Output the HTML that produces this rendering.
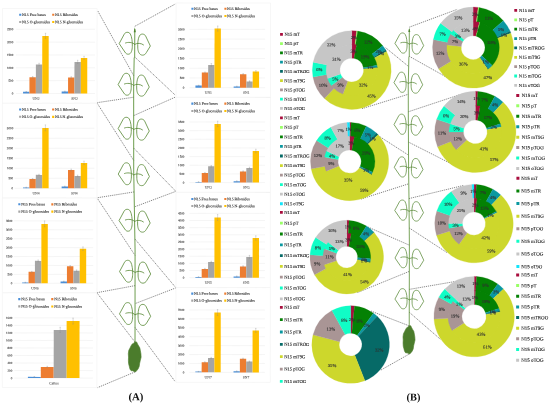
<!DOCTYPE html>
<html><head><meta charset="utf-8"><title>Figure</title>
<style>html,body{margin:0;padding:0;background:#fff}svg{display:block}text{text-rendering:geometricPrecision}</style>
</head><body>
<svg width="550" height="404" viewBox="0 0 550 404">
<rect width="550" height="404" fill="#fff"/>
<g transform="rotate(0.03 275 202)">
<g stroke="#555" stroke-width="0.7" stroke-dasharray="1.2 0.9" fill="none">
<line x1="97.7" y1="11.1" x2="133.77" y2="76"/>
<line x1="134.7" y1="26.4" x2="175.3" y2="4.0"/>
<line x1="134.6" y1="57" x2="175" y2="95"/>
<line x1="133.61" y1="97.3" x2="96.8" y2="102.8"/>
<line x1="175" y1="97.3" x2="133.64" y2="115.7"/>
<line x1="96.8" y1="102.8" x2="133.69" y2="160.5"/>
<line x1="133.67" y1="148.2" x2="175.5" y2="191"/>
<line x1="134.09" y1="192" x2="97.7" y2="197.8"/>
<line x1="175.6" y1="191.5" x2="134.35" y2="207"/>
<line x1="97.7" y1="199" x2="135.1" y2="255.5"/>
<line x1="134.91" y1="239" x2="175.6" y2="287.4"/>
<line x1="135.1" y1="285.7" x2="96.9" y2="292.8"/>
<line x1="176" y1="287.9" x2="135.1" y2="303.7"/>
<line x1="96.9" y1="292.8" x2="135.1" y2="342.2"/>
<line x1="135.1" y1="327.5" x2="175.2" y2="381.6"/>
<line x1="135.1" y1="372" x2="97.7" y2="387.7"/>
<line x1="409.2" y1="27.1" x2="457" y2="9.3"/>
<line x1="409.12" y1="56.2" x2="447" y2="77.4"/>
<line x1="385.6" y1="47.7" x2="408.6" y2="66.5"/>
<line x1="362" y1="108.6" x2="408.23" y2="94.2"/>
<line x1="408.28" y1="111.7" x2="460" y2="94.5"/>
<line x1="408.43" y1="142" x2="458.5" y2="167.4"/>
<line x1="376.6" y1="134.6" x2="408.51" y2="155.1"/>
<line x1="361" y1="199" x2="408.78" y2="183.7"/>
<line x1="408.98" y1="198.5" x2="463.4" y2="185.4"/>
<line x1="409.25" y1="227.9" x2="447" y2="252.5"/>
<line x1="368" y1="227" x2="409.4" y2="245.1"/>
<line x1="357.5" y1="292.5" x2="409.37" y2="271.3"/>
<line x1="409.35" y1="289.3" x2="461.7" y2="280.3"/>
<line x1="409.32" y1="312.2" x2="440.5" y2="339.2"/>
<line x1="371" y1="311" x2="409.3" y2="325.8"/>
<line x1="381" y1="370" x2="409.3" y2="354"/>
</g>
<rect x="2.4" y="8.6" width="94.6" height="94.8" fill="#fff" stroke="#eeeeee" stroke-width="0.5"/>
<line x1="16" y1="93.60" x2="95" y2="93.60" stroke="#e6e6e6" stroke-width="0.42"/>
<text x="13.2" y="94.70" font-size="3.2" text-anchor="end" fill="#3c3c3c" stroke="#3c3c3c" stroke-width="0.1" font-family="Liberation Serif, serif">0</text>
<line x1="16" y1="80.76" x2="95" y2="80.76" stroke="#e6e6e6" stroke-width="0.42"/>
<text x="13.2" y="81.86" font-size="3.2" text-anchor="end" fill="#3c3c3c" stroke="#3c3c3c" stroke-width="0.1" font-family="Liberation Serif, serif">500</text>
<line x1="16" y1="67.92" x2="95" y2="67.92" stroke="#e6e6e6" stroke-width="0.42"/>
<text x="13.2" y="69.02" font-size="3.2" text-anchor="end" fill="#3c3c3c" stroke="#3c3c3c" stroke-width="0.1" font-family="Liberation Serif, serif">1000</text>
<line x1="16" y1="55.08" x2="95" y2="55.08" stroke="#e6e6e6" stroke-width="0.42"/>
<text x="13.2" y="56.18" font-size="3.2" text-anchor="end" fill="#3c3c3c" stroke="#3c3c3c" stroke-width="0.1" font-family="Liberation Serif, serif">1500</text>
<line x1="16" y1="42.24" x2="95" y2="42.24" stroke="#e6e6e6" stroke-width="0.42"/>
<text x="13.2" y="43.34" font-size="3.2" text-anchor="end" fill="#3c3c3c" stroke="#3c3c3c" stroke-width="0.1" font-family="Liberation Serif, serif">2000</text>
<line x1="16" y1="29.40" x2="95" y2="29.40" stroke="#e6e6e6" stroke-width="0.42"/>
<text x="13.2" y="30.50" font-size="3.2" text-anchor="end" fill="#3c3c3c" stroke="#3c3c3c" stroke-width="0.1" font-family="Liberation Serif, serif">2500</text>
<rect x="19.099999999999998" y="13.80" width="2.1" height="2.1" fill="#4a8fd9"/>
<text x="22" y="16.05" font-size="3.85" fill="#333" stroke="#333" stroke-width="0.12" font-family="Liberation Serif, serif">N15 Free bases</text>
<rect x="52.1" y="13.80" width="2.1" height="2.1" fill="#ED7D31"/>
<text x="55" y="16.05" font-size="3.85" fill="#333" stroke="#333" stroke-width="0.12" font-family="Liberation Serif, serif">N15 Ribosides</text>
<rect x="19.099999999999998" y="21.10" width="2.1" height="2.1" fill="#A5A5A5"/>
<text x="22" y="23.35" font-size="3.85" fill="#333" stroke="#333" stroke-width="0.12" font-family="Liberation Serif, serif">N15 O-glucosides</text>
<rect x="52.1" y="21.10" width="2.1" height="2.1" fill="#FFC000"/>
<text x="55" y="23.35" font-size="3.85" fill="#333" stroke="#333" stroke-width="0.12" font-family="Liberation Serif, serif">N15 N-glucosides</text>
<rect x="23.00" y="92.00" width="6.40" height="1.60" fill="#4a8fd9"/>
<path d="M26.20 91.60V92.40M25.50 91.60h1.4M25.50 92.40h1.4" stroke="#8a8a8a" stroke-width="0.3" fill="none"/>
<rect x="29.40" y="77.40" width="6.40" height="16.20" fill="#ED7D31"/>
<path d="M32.60 76.60V78.20M31.90 76.60h1.4M31.90 78.20h1.4" stroke="#8a8a8a" stroke-width="0.3" fill="none"/>
<rect x="35.80" y="64.60" width="6.40" height="29.00" fill="#A5A5A5"/>
<path d="M39.00 63.40V65.80M38.30 63.40h1.4M38.30 65.80h1.4" stroke="#8a8a8a" stroke-width="0.3" fill="none"/>
<rect x="42.20" y="36.00" width="6.40" height="57.60" fill="#FFC000"/>
<path d="M45.40 33.40V38.60M44.70 33.40h1.4M44.70 38.60h1.4" stroke="#8a8a8a" stroke-width="0.3" fill="none"/>
<rect x="61.60" y="91.60" width="6.40" height="2.00" fill="#4a8fd9"/>
<path d="M64.80 91.20V92.00M64.10 91.20h1.4M64.10 92.00h1.4" stroke="#8a8a8a" stroke-width="0.3" fill="none"/>
<rect x="68.00" y="77.60" width="6.40" height="16.00" fill="#ED7D31"/>
<path d="M71.20 76.80V78.40M70.50 76.80h1.4M70.50 78.40h1.4" stroke="#8a8a8a" stroke-width="0.3" fill="none"/>
<rect x="74.40" y="62.00" width="6.40" height="31.60" fill="#A5A5A5"/>
<path d="M77.60 60.40V63.60M76.90 60.40h1.4M76.90 63.60h1.4" stroke="#8a8a8a" stroke-width="0.3" fill="none"/>
<rect x="80.80" y="58.00" width="6.40" height="35.60" fill="#FFC000"/>
<path d="M84.00 56.40V59.60M83.30 56.40h1.4M83.30 59.60h1.4" stroke="#8a8a8a" stroke-width="0.3" fill="none"/>
<text x="36" y="99.85" font-size="3.7" text-anchor="middle" fill="#444" stroke="#444" stroke-width="0.06" font-family="Liberation Serif, serif">UN2</text>
<text x="74.4" y="99.85" font-size="3.7" text-anchor="middle" fill="#444" stroke="#444" stroke-width="0.06" font-family="Liberation Serif, serif">SN2</text>
<rect x="2.4" y="103.4" width="94.6" height="94.8" fill="#fff" stroke="#eeeeee" stroke-width="0.5"/>
<line x1="14.6" y1="188.40" x2="94.4" y2="188.40" stroke="#e6e6e6" stroke-width="0.42"/>
<text x="13.2" y="189.50" font-size="3.2" text-anchor="end" fill="#3c3c3c" stroke="#3c3c3c" stroke-width="0.1" font-family="Liberation Serif, serif">0</text>
<line x1="14.6" y1="178.40" x2="94.4" y2="178.40" stroke="#e6e6e6" stroke-width="0.42"/>
<text x="13.2" y="179.50" font-size="3.2" text-anchor="end" fill="#3c3c3c" stroke="#3c3c3c" stroke-width="0.1" font-family="Liberation Serif, serif">500</text>
<line x1="14.6" y1="168.40" x2="94.4" y2="168.40" stroke="#e6e6e6" stroke-width="0.42"/>
<text x="13.2" y="169.50" font-size="3.2" text-anchor="end" fill="#3c3c3c" stroke="#3c3c3c" stroke-width="0.1" font-family="Liberation Serif, serif">1000</text>
<line x1="14.6" y1="158.40" x2="94.4" y2="158.40" stroke="#e6e6e6" stroke-width="0.42"/>
<text x="13.2" y="159.50" font-size="3.2" text-anchor="end" fill="#3c3c3c" stroke="#3c3c3c" stroke-width="0.1" font-family="Liberation Serif, serif">1500</text>
<line x1="14.6" y1="148.40" x2="94.4" y2="148.40" stroke="#e6e6e6" stroke-width="0.42"/>
<text x="13.2" y="149.50" font-size="3.2" text-anchor="end" fill="#3c3c3c" stroke="#3c3c3c" stroke-width="0.1" font-family="Liberation Serif, serif">2000</text>
<line x1="14.6" y1="138.40" x2="94.4" y2="138.40" stroke="#e6e6e6" stroke-width="0.42"/>
<text x="13.2" y="139.50" font-size="3.2" text-anchor="end" fill="#3c3c3c" stroke="#3c3c3c" stroke-width="0.1" font-family="Liberation Serif, serif">2500</text>
<line x1="14.6" y1="128.40" x2="94.4" y2="128.40" stroke="#e6e6e6" stroke-width="0.42"/>
<text x="13.2" y="129.50" font-size="3.2" text-anchor="end" fill="#3c3c3c" stroke="#3c3c3c" stroke-width="0.1" font-family="Liberation Serif, serif">3000</text>
<rect x="19.099999999999998" y="108.60" width="2.1" height="2.1" fill="#4a8fd9"/>
<text x="22" y="110.85" font-size="3.85" fill="#333" stroke="#333" stroke-width="0.12" font-family="Liberation Serif, serif">N15 Free bases</text>
<rect x="52.1" y="108.60" width="2.1" height="2.1" fill="#ED7D31"/>
<text x="55" y="110.85" font-size="3.85" fill="#333" stroke="#333" stroke-width="0.12" font-family="Liberation Serif, serif">N15 Ribosides</text>
<rect x="19.099999999999998" y="115.90" width="2.1" height="2.1" fill="#A5A5A5"/>
<text x="22" y="118.15" font-size="3.85" fill="#333" stroke="#333" stroke-width="0.12" font-family="Liberation Serif, serif">N15 O-glucosides</text>
<rect x="52.1" y="115.90" width="2.1" height="2.1" fill="#FFC000"/>
<text x="55" y="118.15" font-size="3.85" fill="#333" stroke="#333" stroke-width="0.12" font-family="Liberation Serif, serif">N15 N-glucosides</text>
<rect x="23.00" y="187.60" width="6.40" height="0.80" fill="#4a8fd9"/>
<path d="M26.20 187.30V187.90M25.50 187.30h1.4M25.50 187.90h1.4" stroke="#8a8a8a" stroke-width="0.3" fill="none"/>
<rect x="29.40" y="179.20" width="6.40" height="9.20" fill="#ED7D31"/>
<path d="M32.60 178.60V179.80M31.90 178.60h1.4M31.90 179.80h1.4" stroke="#8a8a8a" stroke-width="0.3" fill="none"/>
<rect x="35.80" y="175.00" width="6.40" height="13.40" fill="#A5A5A5"/>
<path d="M39.00 174.40V175.60M38.30 174.40h1.4M38.30 175.60h1.4" stroke="#8a8a8a" stroke-width="0.3" fill="none"/>
<rect x="42.20" y="128.00" width="6.40" height="60.40" fill="#FFC000"/>
<path d="M45.40 125.00V131.00M44.70 125.00h1.4M44.70 131.00h1.4" stroke="#8a8a8a" stroke-width="0.3" fill="none"/>
<rect x="61.60" y="186.60" width="6.40" height="1.80" fill="#4a8fd9"/>
<path d="M64.80 186.20V187.00M64.10 186.20h1.4M64.10 187.00h1.4" stroke="#8a8a8a" stroke-width="0.3" fill="none"/>
<rect x="68.00" y="170.20" width="6.40" height="18.20" fill="#ED7D31"/>
<path d="M71.20 169.20V171.20M70.50 169.20h1.4M70.50 171.20h1.4" stroke="#8a8a8a" stroke-width="0.3" fill="none"/>
<rect x="74.40" y="176.00" width="6.40" height="12.40" fill="#A5A5A5"/>
<path d="M77.60 175.20V176.80M76.90 175.20h1.4M76.90 176.80h1.4" stroke="#8a8a8a" stroke-width="0.3" fill="none"/>
<rect x="80.80" y="163.00" width="6.40" height="25.40" fill="#FFC000"/>
<path d="M84.00 161.20V164.80M83.30 161.20h1.4M83.30 164.80h1.4" stroke="#8a8a8a" stroke-width="0.3" fill="none"/>
<text x="36" y="194.65" font-size="3.7" text-anchor="middle" fill="#444" stroke="#444" stroke-width="0.06" font-family="Liberation Serif, serif">UN4</text>
<text x="74.4" y="194.65" font-size="3.7" text-anchor="middle" fill="#444" stroke="#444" stroke-width="0.06" font-family="Liberation Serif, serif">SN4</text>
<rect x="2.4" y="198.2" width="94.6" height="94.8" fill="#fff" stroke="#eeeeee" stroke-width="0.5"/>
<line x1="13.8" y1="283.40" x2="93.2" y2="283.40" stroke="#e6e6e6" stroke-width="0.42"/>
<text x="12.4" y="284.50" font-size="3.2" text-anchor="end" fill="#3c3c3c" stroke="#3c3c3c" stroke-width="0.1" font-family="Liberation Serif, serif">0</text>
<line x1="13.8" y1="274.49" x2="93.2" y2="274.49" stroke="#e6e6e6" stroke-width="0.42"/>
<text x="12.4" y="275.59" font-size="3.2" text-anchor="end" fill="#3c3c3c" stroke="#3c3c3c" stroke-width="0.1" font-family="Liberation Serif, serif">500</text>
<line x1="13.8" y1="265.57" x2="93.2" y2="265.57" stroke="#e6e6e6" stroke-width="0.42"/>
<text x="12.4" y="266.67" font-size="3.2" text-anchor="end" fill="#3c3c3c" stroke="#3c3c3c" stroke-width="0.1" font-family="Liberation Serif, serif">1000</text>
<line x1="13.8" y1="256.66" x2="93.2" y2="256.66" stroke="#e6e6e6" stroke-width="0.42"/>
<text x="12.4" y="257.76" font-size="3.2" text-anchor="end" fill="#3c3c3c" stroke="#3c3c3c" stroke-width="0.1" font-family="Liberation Serif, serif">1500</text>
<line x1="13.8" y1="247.74" x2="93.2" y2="247.74" stroke="#e6e6e6" stroke-width="0.42"/>
<text x="12.4" y="248.84" font-size="3.2" text-anchor="end" fill="#3c3c3c" stroke="#3c3c3c" stroke-width="0.1" font-family="Liberation Serif, serif">2000</text>
<line x1="13.8" y1="238.83" x2="93.2" y2="238.83" stroke="#e6e6e6" stroke-width="0.42"/>
<text x="12.4" y="239.93" font-size="3.2" text-anchor="end" fill="#3c3c3c" stroke="#3c3c3c" stroke-width="0.1" font-family="Liberation Serif, serif">2500</text>
<line x1="13.8" y1="229.91" x2="93.2" y2="229.91" stroke="#e6e6e6" stroke-width="0.42"/>
<text x="12.4" y="231.01" font-size="3.2" text-anchor="end" fill="#3c3c3c" stroke="#3c3c3c" stroke-width="0.1" font-family="Liberation Serif, serif">3000</text>
<line x1="13.8" y1="221.00" x2="93.2" y2="221.00" stroke="#e6e6e6" stroke-width="0.42"/>
<text x="12.4" y="222.10" font-size="3.2" text-anchor="end" fill="#3c3c3c" stroke="#3c3c3c" stroke-width="0.1" font-family="Liberation Serif, serif">3500</text>
<rect x="18.3" y="203.40" width="2.1" height="2.1" fill="#4a8fd9"/>
<text x="21.2" y="205.65" font-size="3.85" fill="#333" stroke="#333" stroke-width="0.12" font-family="Liberation Serif, serif">N15 Free bases</text>
<rect x="51.300000000000004" y="203.40" width="2.1" height="2.1" fill="#ED7D31"/>
<text x="54.2" y="205.65" font-size="3.85" fill="#333" stroke="#333" stroke-width="0.12" font-family="Liberation Serif, serif">N15 Ribosides</text>
<rect x="18.3" y="210.70" width="2.1" height="2.1" fill="#A5A5A5"/>
<text x="21.2" y="212.95" font-size="3.85" fill="#333" stroke="#333" stroke-width="0.12" font-family="Liberation Serif, serif">N15 O-glucosides</text>
<rect x="51.300000000000004" y="210.70" width="2.1" height="2.1" fill="#FFC000"/>
<text x="54.2" y="212.95" font-size="3.85" fill="#333" stroke="#333" stroke-width="0.12" font-family="Liberation Serif, serif">N15 N-glucosides</text>
<rect x="22.20" y="282.60" width="6.40" height="0.80" fill="#4a8fd9"/>
<path d="M25.40 282.30V282.90M24.70 282.30h1.4M24.70 282.90h1.4" stroke="#8a8a8a" stroke-width="0.3" fill="none"/>
<rect x="28.60" y="272.00" width="6.40" height="11.40" fill="#ED7D31"/>
<path d="M31.80 271.50V272.50M31.10 271.50h1.4M31.10 272.50h1.4" stroke="#8a8a8a" stroke-width="0.3" fill="none"/>
<rect x="35.00" y="261.00" width="6.40" height="22.40" fill="#A5A5A5"/>
<path d="M38.20 260.10V261.90M37.50 260.10h1.4M37.50 261.90h1.4" stroke="#8a8a8a" stroke-width="0.3" fill="none"/>
<rect x="41.40" y="224.00" width="6.40" height="59.40" fill="#FFC000"/>
<path d="M44.60 221.00V227.00M43.90 221.00h1.4M43.90 227.00h1.4" stroke="#8a8a8a" stroke-width="0.3" fill="none"/>
<rect x="60.60" y="281.60" width="6.40" height="1.80" fill="#4a8fd9"/>
<path d="M63.80 281.20V282.00M63.10 281.20h1.4M63.10 282.00h1.4" stroke="#8a8a8a" stroke-width="0.3" fill="none"/>
<rect x="67.00" y="266.40" width="6.40" height="17.00" fill="#ED7D31"/>
<path d="M70.20 265.60V267.20M69.50 265.60h1.4M69.50 267.20h1.4" stroke="#8a8a8a" stroke-width="0.3" fill="none"/>
<rect x="73.40" y="270.80" width="6.40" height="12.60" fill="#A5A5A5"/>
<path d="M76.60 270.00V271.60M75.90 270.00h1.4M75.90 271.60h1.4" stroke="#8a8a8a" stroke-width="0.3" fill="none"/>
<rect x="79.80" y="248.80" width="6.40" height="34.60" fill="#FFC000"/>
<path d="M83.00 247.00V250.60M82.30 247.00h1.4M82.30 250.60h1.4" stroke="#8a8a8a" stroke-width="0.3" fill="none"/>
<text x="35" y="289.65" font-size="3.7" text-anchor="middle" fill="#444" stroke="#444" stroke-width="0.06" font-family="Liberation Serif, serif">UN6</text>
<text x="73.4" y="289.65" font-size="3.7" text-anchor="middle" fill="#444" stroke="#444" stroke-width="0.06" font-family="Liberation Serif, serif">SN6</text>
<rect x="2.4" y="293" width="94.6" height="94.6" fill="#fff" stroke="#eeeeee" stroke-width="0.5"/>
<line x1="14.4" y1="378.20" x2="93" y2="378.20" stroke="#e6e6e6" stroke-width="0.42"/>
<text x="12.4" y="379.30" font-size="3.2" text-anchor="end" fill="#3c3c3c" stroke="#3c3c3c" stroke-width="0.1" font-family="Liberation Serif, serif">0</text>
<line x1="14.4" y1="370.68" x2="93" y2="370.68" stroke="#e6e6e6" stroke-width="0.42"/>
<text x="12.4" y="371.78" font-size="3.2" text-anchor="end" fill="#3c3c3c" stroke="#3c3c3c" stroke-width="0.1" font-family="Liberation Serif, serif">200</text>
<line x1="14.4" y1="363.15" x2="93" y2="363.15" stroke="#e6e6e6" stroke-width="0.42"/>
<text x="12.4" y="364.25" font-size="3.2" text-anchor="end" fill="#3c3c3c" stroke="#3c3c3c" stroke-width="0.1" font-family="Liberation Serif, serif">400</text>
<line x1="14.4" y1="355.62" x2="93" y2="355.62" stroke="#e6e6e6" stroke-width="0.42"/>
<text x="12.4" y="356.73" font-size="3.2" text-anchor="end" fill="#3c3c3c" stroke="#3c3c3c" stroke-width="0.1" font-family="Liberation Serif, serif">600</text>
<line x1="14.4" y1="348.10" x2="93" y2="348.10" stroke="#e6e6e6" stroke-width="0.42"/>
<text x="12.4" y="349.20" font-size="3.2" text-anchor="end" fill="#3c3c3c" stroke="#3c3c3c" stroke-width="0.1" font-family="Liberation Serif, serif">800</text>
<line x1="14.4" y1="340.57" x2="93" y2="340.57" stroke="#e6e6e6" stroke-width="0.42"/>
<text x="12.4" y="341.68" font-size="3.2" text-anchor="end" fill="#3c3c3c" stroke="#3c3c3c" stroke-width="0.1" font-family="Liberation Serif, serif">1000</text>
<line x1="14.4" y1="333.05" x2="93" y2="333.05" stroke="#e6e6e6" stroke-width="0.42"/>
<text x="12.4" y="334.15" font-size="3.2" text-anchor="end" fill="#3c3c3c" stroke="#3c3c3c" stroke-width="0.1" font-family="Liberation Serif, serif">1200</text>
<line x1="14.4" y1="325.52" x2="93" y2="325.52" stroke="#e6e6e6" stroke-width="0.42"/>
<text x="12.4" y="326.62" font-size="3.2" text-anchor="end" fill="#3c3c3c" stroke="#3c3c3c" stroke-width="0.1" font-family="Liberation Serif, serif">1400</text>
<line x1="14.4" y1="318.00" x2="93" y2="318.00" stroke="#e6e6e6" stroke-width="0.42"/>
<text x="12.4" y="319.10" font-size="3.2" text-anchor="end" fill="#3c3c3c" stroke="#3c3c3c" stroke-width="0.1" font-family="Liberation Serif, serif">1600</text>
<rect x="18.3" y="298.20" width="2.1" height="2.1" fill="#4a8fd9"/>
<text x="21.2" y="300.45" font-size="3.85" fill="#333" stroke="#333" stroke-width="0.12" font-family="Liberation Serif, serif">N15 Free bases</text>
<rect x="51.300000000000004" y="298.20" width="2.1" height="2.1" fill="#ED7D31"/>
<text x="54.2" y="300.45" font-size="3.85" fill="#333" stroke="#333" stroke-width="0.12" font-family="Liberation Serif, serif">N15 Ribosides</text>
<rect x="18.3" y="305.50" width="2.1" height="2.1" fill="#A5A5A5"/>
<text x="21.2" y="307.75" font-size="3.85" fill="#333" stroke="#333" stroke-width="0.12" font-family="Liberation Serif, serif">N15 O-glucosides</text>
<rect x="51.300000000000004" y="305.50" width="2.1" height="2.1" fill="#FFC000"/>
<text x="54.2" y="307.75" font-size="3.85" fill="#333" stroke="#333" stroke-width="0.12" font-family="Liberation Serif, serif">N15 N-glucosides</text>
<rect x="28.00" y="377.00" width="12.90" height="1.20" fill="#4a8fd9"/>
<path d="M34.45 376.70V377.30M33.75 376.70h1.4M33.75 377.30h1.4" stroke="#8a8a8a" stroke-width="0.3" fill="none"/>
<rect x="40.90" y="367.00" width="12.90" height="11.20" fill="#ED7D31"/>
<path d="M47.35 366.40V367.60M46.65 366.40h1.4M46.65 367.60h1.4" stroke="#8a8a8a" stroke-width="0.3" fill="none"/>
<rect x="53.80" y="330.00" width="12.90" height="48.20" fill="#A5A5A5"/>
<path d="M60.25 327.40V332.60M59.55 327.40h1.4M59.55 332.60h1.4" stroke="#8a8a8a" stroke-width="0.3" fill="none"/>
<rect x="66.70" y="321.20" width="12.90" height="57.00" fill="#FFC000"/>
<path d="M73.15 318.20V324.20M72.45 318.20h1.4M72.45 324.20h1.4" stroke="#8a8a8a" stroke-width="0.3" fill="none"/>
<text x="54" y="384.65" font-size="3.7" text-anchor="middle" fill="#444" stroke="#444" stroke-width="0.06" font-family="Liberation Serif, serif">Callus</text>
<rect x="176" y="3" width="94.4" height="94.4" fill="#fff" stroke="#eeeeee" stroke-width="0.5"/>
<line x1="189.4" y1="87.70" x2="265" y2="87.70" stroke="#e6e6e6" stroke-width="0.42"/>
<text x="184.4" y="88.80" font-size="3.2" text-anchor="end" fill="#3c3c3c" stroke="#3c3c3c" stroke-width="0.1" font-family="Liberation Serif, serif">0</text>
<line x1="189.4" y1="77.98" x2="265" y2="77.98" stroke="#e6e6e6" stroke-width="0.42"/>
<text x="184.4" y="79.08" font-size="3.2" text-anchor="end" fill="#3c3c3c" stroke="#3c3c3c" stroke-width="0.1" font-family="Liberation Serif, serif">500</text>
<line x1="189.4" y1="68.27" x2="265" y2="68.27" stroke="#e6e6e6" stroke-width="0.42"/>
<text x="184.4" y="69.37" font-size="3.2" text-anchor="end" fill="#3c3c3c" stroke="#3c3c3c" stroke-width="0.1" font-family="Liberation Serif, serif">1000</text>
<line x1="189.4" y1="58.55" x2="265" y2="58.55" stroke="#e6e6e6" stroke-width="0.42"/>
<text x="184.4" y="59.65" font-size="3.2" text-anchor="end" fill="#3c3c3c" stroke="#3c3c3c" stroke-width="0.1" font-family="Liberation Serif, serif">1500</text>
<line x1="189.4" y1="48.83" x2="265" y2="48.83" stroke="#e6e6e6" stroke-width="0.42"/>
<text x="184.4" y="49.93" font-size="3.2" text-anchor="end" fill="#3c3c3c" stroke="#3c3c3c" stroke-width="0.1" font-family="Liberation Serif, serif">2000</text>
<line x1="189.4" y1="39.12" x2="265" y2="39.12" stroke="#e6e6e6" stroke-width="0.42"/>
<text x="184.4" y="40.22" font-size="3.2" text-anchor="end" fill="#3c3c3c" stroke="#3c3c3c" stroke-width="0.1" font-family="Liberation Serif, serif">2500</text>
<line x1="189.4" y1="29.40" x2="265" y2="29.40" stroke="#e6e6e6" stroke-width="0.42"/>
<text x="184.4" y="30.50" font-size="3.2" text-anchor="end" fill="#3c3c3c" stroke="#3c3c3c" stroke-width="0.1" font-family="Liberation Serif, serif">3000</text>
<rect x="191.29999999999998" y="7.80" width="2.1" height="2.1" fill="#4a8fd9"/>
<text x="194" y="10.05" font-size="3.85" fill="#333" stroke="#333" stroke-width="0.12" font-family="Liberation Serif, serif">N15 Free bases</text>
<rect x="224.29999999999998" y="7.80" width="2.1" height="2.1" fill="#ED7D31"/>
<text x="227" y="10.05" font-size="3.85" fill="#333" stroke="#333" stroke-width="0.12" font-family="Liberation Serif, serif">N15 Ribosides</text>
<rect x="191.29999999999998" y="15.00" width="2.1" height="2.1" fill="#A5A5A5"/>
<text x="194" y="17.25" font-size="3.85" fill="#333" stroke="#333" stroke-width="0.12" font-family="Liberation Serif, serif">N15 O-glucosides</text>
<rect x="224.29999999999998" y="15.00" width="2.1" height="2.1" fill="#FFC000"/>
<text x="227" y="17.25" font-size="3.85" fill="#333" stroke="#333" stroke-width="0.12" font-family="Liberation Serif, serif">N15 N-glucosides</text>
<rect x="195.40" y="85.60" width="6.35" height="2.10" fill="#4a8fd9"/>
<path d="M198.58 85.20V86.00M197.88 85.20h1.4M197.88 86.00h1.4" stroke="#8a8a8a" stroke-width="0.3" fill="none"/>
<rect x="201.75" y="72.60" width="6.35" height="15.10" fill="#ED7D31"/>
<path d="M204.93 72.00V73.20M204.23 72.00h1.4M204.23 73.20h1.4" stroke="#8a8a8a" stroke-width="0.3" fill="none"/>
<rect x="208.10" y="65.00" width="6.35" height="22.70" fill="#A5A5A5"/>
<path d="M211.28 63.60V66.40M210.58 63.60h1.4M210.58 66.40h1.4" stroke="#8a8a8a" stroke-width="0.3" fill="none"/>
<rect x="214.45" y="28.60" width="6.35" height="59.10" fill="#FFC000"/>
<path d="M217.62 26.00V31.20M216.93 26.00h1.4M216.93 31.20h1.4" stroke="#8a8a8a" stroke-width="0.3" fill="none"/>
<rect x="233.60" y="86.40" width="6.35" height="1.30" fill="#4a8fd9"/>
<path d="M236.78 86.10V86.70M236.08 86.10h1.4M236.08 86.70h1.4" stroke="#8a8a8a" stroke-width="0.3" fill="none"/>
<rect x="239.95" y="74.20" width="6.35" height="13.50" fill="#ED7D31"/>
<path d="M243.12 73.60V74.80M242.43 73.60h1.4M242.43 74.80h1.4" stroke="#8a8a8a" stroke-width="0.3" fill="none"/>
<rect x="246.30" y="81.40" width="6.35" height="6.30" fill="#A5A5A5"/>
<path d="M249.47 80.80V82.00M248.78 80.80h1.4M248.78 82.00h1.4" stroke="#8a8a8a" stroke-width="0.3" fill="none"/>
<rect x="252.65" y="71.60" width="6.35" height="16.10" fill="#FFC000"/>
<path d="M255.82 70.60V72.60M255.12 70.60h1.4M255.12 72.60h1.4" stroke="#8a8a8a" stroke-width="0.3" fill="none"/>
<text x="208.3" y="93.85" font-size="3.7" text-anchor="middle" fill="#444" stroke="#444" stroke-width="0.06" font-family="Liberation Serif, serif">UN1</text>
<text x="246.2" y="93.85" font-size="3.7" text-anchor="middle" fill="#444" stroke="#444" stroke-width="0.06" font-family="Liberation Serif, serif">SN1</text>
<rect x="176" y="97.4" width="94.4" height="95.0" fill="#fff" stroke="#eeeeee" stroke-width="0.5"/>
<line x1="189.4" y1="182.60" x2="265" y2="182.60" stroke="#e6e6e6" stroke-width="0.42"/>
<text x="184.4" y="183.70" font-size="3.2" text-anchor="end" fill="#3c3c3c" stroke="#3c3c3c" stroke-width="0.1" font-family="Liberation Serif, serif">0</text>
<line x1="189.4" y1="173.94" x2="265" y2="173.94" stroke="#e6e6e6" stroke-width="0.42"/>
<text x="184.4" y="175.04" font-size="3.2" text-anchor="end" fill="#3c3c3c" stroke="#3c3c3c" stroke-width="0.1" font-family="Liberation Serif, serif">500</text>
<line x1="189.4" y1="165.29" x2="265" y2="165.29" stroke="#e6e6e6" stroke-width="0.42"/>
<text x="184.4" y="166.39" font-size="3.2" text-anchor="end" fill="#3c3c3c" stroke="#3c3c3c" stroke-width="0.1" font-family="Liberation Serif, serif">1000</text>
<line x1="189.4" y1="156.63" x2="265" y2="156.63" stroke="#e6e6e6" stroke-width="0.42"/>
<text x="184.4" y="157.73" font-size="3.2" text-anchor="end" fill="#3c3c3c" stroke="#3c3c3c" stroke-width="0.1" font-family="Liberation Serif, serif">1500</text>
<line x1="189.4" y1="147.97" x2="265" y2="147.97" stroke="#e6e6e6" stroke-width="0.42"/>
<text x="184.4" y="149.07" font-size="3.2" text-anchor="end" fill="#3c3c3c" stroke="#3c3c3c" stroke-width="0.1" font-family="Liberation Serif, serif">2000</text>
<line x1="189.4" y1="139.31" x2="265" y2="139.31" stroke="#e6e6e6" stroke-width="0.42"/>
<text x="184.4" y="140.41" font-size="3.2" text-anchor="end" fill="#3c3c3c" stroke="#3c3c3c" stroke-width="0.1" font-family="Liberation Serif, serif">2500</text>
<line x1="189.4" y1="130.66" x2="265" y2="130.66" stroke="#e6e6e6" stroke-width="0.42"/>
<text x="184.4" y="131.76" font-size="3.2" text-anchor="end" fill="#3c3c3c" stroke="#3c3c3c" stroke-width="0.1" font-family="Liberation Serif, serif">3000</text>
<line x1="189.4" y1="122.00" x2="265" y2="122.00" stroke="#e6e6e6" stroke-width="0.42"/>
<text x="184.4" y="123.10" font-size="3.2" text-anchor="end" fill="#3c3c3c" stroke="#3c3c3c" stroke-width="0.1" font-family="Liberation Serif, serif">3500</text>
<rect x="191.29999999999998" y="102.60" width="2.1" height="2.1" fill="#4a8fd9"/>
<text x="194" y="104.85" font-size="3.85" fill="#333" stroke="#333" stroke-width="0.12" font-family="Liberation Serif, serif">N15 Free bases</text>
<rect x="224.29999999999998" y="102.60" width="2.1" height="2.1" fill="#ED7D31"/>
<text x="227" y="104.85" font-size="3.85" fill="#333" stroke="#333" stroke-width="0.12" font-family="Liberation Serif, serif">N15 Ribosides</text>
<rect x="191.29999999999998" y="110.00" width="2.1" height="2.1" fill="#A5A5A5"/>
<text x="194" y="112.25" font-size="3.85" fill="#333" stroke="#333" stroke-width="0.12" font-family="Liberation Serif, serif">N15 O-glucosides</text>
<rect x="224.29999999999998" y="110.00" width="2.1" height="2.1" fill="#FFC000"/>
<text x="227" y="112.25" font-size="3.85" fill="#333" stroke="#333" stroke-width="0.12" font-family="Liberation Serif, serif">N15 N-glucosides</text>
<rect x="195.40" y="182.00" width="6.35" height="0.60" fill="#4a8fd9"/>
<path d="M198.58 181.80V182.20M197.88 181.80h1.4M197.88 182.20h1.4" stroke="#8a8a8a" stroke-width="0.3" fill="none"/>
<rect x="201.75" y="173.00" width="6.35" height="9.60" fill="#ED7D31"/>
<path d="M204.93 172.50V173.50M204.23 172.50h1.4M204.23 173.50h1.4" stroke="#8a8a8a" stroke-width="0.3" fill="none"/>
<rect x="208.10" y="166.40" width="6.35" height="16.20" fill="#A5A5A5"/>
<path d="M211.28 165.60V167.20M210.58 165.60h1.4M210.58 167.20h1.4" stroke="#8a8a8a" stroke-width="0.3" fill="none"/>
<rect x="214.45" y="124.00" width="6.35" height="58.60" fill="#FFC000"/>
<path d="M217.62 121.20V126.80M216.93 121.20h1.4M216.93 126.80h1.4" stroke="#8a8a8a" stroke-width="0.3" fill="none"/>
<rect x="233.60" y="181.20" width="6.35" height="1.40" fill="#4a8fd9"/>
<path d="M236.78 180.80V181.60M236.08 180.80h1.4M236.08 181.60h1.4" stroke="#8a8a8a" stroke-width="0.3" fill="none"/>
<rect x="239.95" y="171.40" width="6.35" height="11.20" fill="#ED7D31"/>
<path d="M243.12 170.90V171.90M242.43 170.90h1.4M242.43 171.90h1.4" stroke="#8a8a8a" stroke-width="0.3" fill="none"/>
<rect x="246.30" y="168.00" width="6.35" height="14.60" fill="#A5A5A5"/>
<path d="M249.47 167.20V168.80M248.78 167.20h1.4M248.78 168.80h1.4" stroke="#8a8a8a" stroke-width="0.3" fill="none"/>
<rect x="252.65" y="151.00" width="6.35" height="31.60" fill="#FFC000"/>
<path d="M255.82 149.20V152.80M255.12 149.20h1.4M255.12 152.80h1.4" stroke="#8a8a8a" stroke-width="0.3" fill="none"/>
<text x="208.3" y="188.65" font-size="3.7" text-anchor="middle" fill="#444" stroke="#444" stroke-width="0.06" font-family="Liberation Serif, serif">UN3</text>
<text x="246.2" y="188.65" font-size="3.7" text-anchor="middle" fill="#444" stroke="#444" stroke-width="0.06" font-family="Liberation Serif, serif">SN3</text>
<rect x="176" y="192.4" width="94.4" height="95.2" fill="#fff" stroke="#eeeeee" stroke-width="0.5"/>
<line x1="189.4" y1="277.70" x2="265" y2="277.70" stroke="#e6e6e6" stroke-width="0.42"/>
<text x="184.4" y="278.80" font-size="3.2" text-anchor="end" fill="#3c3c3c" stroke="#3c3c3c" stroke-width="0.1" font-family="Liberation Serif, serif">0</text>
<line x1="189.4" y1="270.56" x2="265" y2="270.56" stroke="#e6e6e6" stroke-width="0.42"/>
<text x="184.4" y="271.66" font-size="3.2" text-anchor="end" fill="#3c3c3c" stroke="#3c3c3c" stroke-width="0.1" font-family="Liberation Serif, serif">500</text>
<line x1="189.4" y1="263.41" x2="265" y2="263.41" stroke="#e6e6e6" stroke-width="0.42"/>
<text x="184.4" y="264.51" font-size="3.2" text-anchor="end" fill="#3c3c3c" stroke="#3c3c3c" stroke-width="0.1" font-family="Liberation Serif, serif">1000</text>
<line x1="189.4" y1="256.27" x2="265" y2="256.27" stroke="#e6e6e6" stroke-width="0.42"/>
<text x="184.4" y="257.37" font-size="3.2" text-anchor="end" fill="#3c3c3c" stroke="#3c3c3c" stroke-width="0.1" font-family="Liberation Serif, serif">1500</text>
<line x1="189.4" y1="249.12" x2="265" y2="249.12" stroke="#e6e6e6" stroke-width="0.42"/>
<text x="184.4" y="250.22" font-size="3.2" text-anchor="end" fill="#3c3c3c" stroke="#3c3c3c" stroke-width="0.1" font-family="Liberation Serif, serif">2000</text>
<line x1="189.4" y1="241.98" x2="265" y2="241.98" stroke="#e6e6e6" stroke-width="0.42"/>
<text x="184.4" y="243.08" font-size="3.2" text-anchor="end" fill="#3c3c3c" stroke="#3c3c3c" stroke-width="0.1" font-family="Liberation Serif, serif">2500</text>
<line x1="189.4" y1="234.83" x2="265" y2="234.83" stroke="#e6e6e6" stroke-width="0.42"/>
<text x="184.4" y="235.93" font-size="3.2" text-anchor="end" fill="#3c3c3c" stroke="#3c3c3c" stroke-width="0.1" font-family="Liberation Serif, serif">3000</text>
<line x1="189.4" y1="227.69" x2="265" y2="227.69" stroke="#e6e6e6" stroke-width="0.42"/>
<text x="184.4" y="228.79" font-size="3.2" text-anchor="end" fill="#3c3c3c" stroke="#3c3c3c" stroke-width="0.1" font-family="Liberation Serif, serif">3500</text>
<line x1="189.4" y1="220.54" x2="265" y2="220.54" stroke="#e6e6e6" stroke-width="0.42"/>
<text x="184.4" y="221.64" font-size="3.2" text-anchor="end" fill="#3c3c3c" stroke="#3c3c3c" stroke-width="0.1" font-family="Liberation Serif, serif">4000</text>
<line x1="189.4" y1="213.40" x2="265" y2="213.40" stroke="#e6e6e6" stroke-width="0.42"/>
<text x="184.4" y="214.50" font-size="3.2" text-anchor="end" fill="#3c3c3c" stroke="#3c3c3c" stroke-width="0.1" font-family="Liberation Serif, serif">4500</text>
<rect x="191.29999999999998" y="198.00" width="2.1" height="2.1" fill="#4a8fd9"/>
<text x="194" y="200.25" font-size="3.85" fill="#333" stroke="#333" stroke-width="0.12" font-family="Liberation Serif, serif">N15 Free bases</text>
<rect x="224.29999999999998" y="198.00" width="2.1" height="2.1" fill="#ED7D31"/>
<text x="227" y="200.25" font-size="3.85" fill="#333" stroke="#333" stroke-width="0.12" font-family="Liberation Serif, serif">N15 Ribosides</text>
<rect x="191.29999999999998" y="205.00" width="2.1" height="2.1" fill="#A5A5A5"/>
<text x="194" y="207.25" font-size="3.85" fill="#333" stroke="#333" stroke-width="0.12" font-family="Liberation Serif, serif">N15 O-glucosides</text>
<rect x="224.29999999999998" y="205.00" width="2.1" height="2.1" fill="#FFC000"/>
<text x="227" y="207.25" font-size="3.85" fill="#333" stroke="#333" stroke-width="0.12" font-family="Liberation Serif, serif">N15 N-glucosides</text>
<rect x="195.40" y="277.00" width="6.35" height="0.70" fill="#4a8fd9"/>
<path d="M198.58 276.80V277.20M197.88 276.80h1.4M197.88 277.20h1.4" stroke="#8a8a8a" stroke-width="0.3" fill="none"/>
<rect x="201.75" y="269.00" width="6.35" height="8.70" fill="#ED7D31"/>
<path d="M204.93 268.40V269.60M204.23 268.40h1.4M204.23 269.60h1.4" stroke="#8a8a8a" stroke-width="0.3" fill="none"/>
<rect x="208.10" y="262.00" width="6.35" height="15.70" fill="#A5A5A5"/>
<path d="M211.28 261.30V262.70M210.58 261.30h1.4M210.58 262.70h1.4" stroke="#8a8a8a" stroke-width="0.3" fill="none"/>
<rect x="214.45" y="217.60" width="6.35" height="60.10" fill="#FFC000"/>
<path d="M217.62 214.60V220.60M216.93 214.60h1.4M216.93 220.60h1.4" stroke="#8a8a8a" stroke-width="0.3" fill="none"/>
<rect x="233.60" y="276.40" width="6.35" height="1.30" fill="#4a8fd9"/>
<path d="M236.78 276.00V276.80M236.08 276.00h1.4M236.08 276.80h1.4" stroke="#8a8a8a" stroke-width="0.3" fill="none"/>
<rect x="239.95" y="266.40" width="6.35" height="11.30" fill="#ED7D31"/>
<path d="M243.12 265.80V267.00M242.43 265.80h1.4M242.43 267.00h1.4" stroke="#8a8a8a" stroke-width="0.3" fill="none"/>
<rect x="246.30" y="257.00" width="6.35" height="20.70" fill="#A5A5A5"/>
<path d="M249.47 255.40V258.60M248.78 255.40h1.4M248.78 258.60h1.4" stroke="#8a8a8a" stroke-width="0.3" fill="none"/>
<rect x="252.65" y="238.00" width="6.35" height="39.70" fill="#FFC000"/>
<path d="M255.82 235.80V240.20M255.12 235.80h1.4M255.12 240.20h1.4" stroke="#8a8a8a" stroke-width="0.3" fill="none"/>
<text x="208.3" y="283.85" font-size="3.7" text-anchor="middle" fill="#444" stroke="#444" stroke-width="0.06" font-family="Liberation Serif, serif">UN5</text>
<text x="246.2" y="283.85" font-size="3.7" text-anchor="middle" fill="#444" stroke="#444" stroke-width="0.06" font-family="Liberation Serif, serif">SN5</text>
<rect x="176" y="287.6" width="94.4" height="94.8" fill="#fff" stroke="#eeeeee" stroke-width="0.5"/>
<line x1="189.4" y1="372.40" x2="265" y2="372.40" stroke="#e6e6e6" stroke-width="0.42"/>
<text x="184.4" y="373.50" font-size="3.2" text-anchor="end" fill="#3c3c3c" stroke="#3c3c3c" stroke-width="0.1" font-family="Liberation Serif, serif">0</text>
<line x1="189.4" y1="363.49" x2="265" y2="363.49" stroke="#e6e6e6" stroke-width="0.42"/>
<text x="184.4" y="364.59" font-size="3.2" text-anchor="end" fill="#3c3c3c" stroke="#3c3c3c" stroke-width="0.1" font-family="Liberation Serif, serif">1000</text>
<line x1="189.4" y1="354.57" x2="265" y2="354.57" stroke="#e6e6e6" stroke-width="0.42"/>
<text x="184.4" y="355.67" font-size="3.2" text-anchor="end" fill="#3c3c3c" stroke="#3c3c3c" stroke-width="0.1" font-family="Liberation Serif, serif">2000</text>
<line x1="189.4" y1="345.66" x2="265" y2="345.66" stroke="#e6e6e6" stroke-width="0.42"/>
<text x="184.4" y="346.76" font-size="3.2" text-anchor="end" fill="#3c3c3c" stroke="#3c3c3c" stroke-width="0.1" font-family="Liberation Serif, serif">3000</text>
<line x1="189.4" y1="336.74" x2="265" y2="336.74" stroke="#e6e6e6" stroke-width="0.42"/>
<text x="184.4" y="337.84" font-size="3.2" text-anchor="end" fill="#3c3c3c" stroke="#3c3c3c" stroke-width="0.1" font-family="Liberation Serif, serif">4000</text>
<line x1="189.4" y1="327.83" x2="265" y2="327.83" stroke="#e6e6e6" stroke-width="0.42"/>
<text x="184.4" y="328.93" font-size="3.2" text-anchor="end" fill="#3c3c3c" stroke="#3c3c3c" stroke-width="0.1" font-family="Liberation Serif, serif">5000</text>
<line x1="189.4" y1="318.91" x2="265" y2="318.91" stroke="#e6e6e6" stroke-width="0.42"/>
<text x="184.4" y="320.01" font-size="3.2" text-anchor="end" fill="#3c3c3c" stroke="#3c3c3c" stroke-width="0.1" font-family="Liberation Serif, serif">6000</text>
<line x1="189.4" y1="310.00" x2="265" y2="310.00" stroke="#e6e6e6" stroke-width="0.42"/>
<text x="184.4" y="311.10" font-size="3.2" text-anchor="end" fill="#3c3c3c" stroke="#3c3c3c" stroke-width="0.1" font-family="Liberation Serif, serif">7000</text>
<rect x="191.29999999999998" y="292.60" width="2.1" height="2.1" fill="#4a8fd9"/>
<text x="194" y="294.85" font-size="3.85" fill="#333" stroke="#333" stroke-width="0.12" font-family="Liberation Serif, serif">N15 Free bases</text>
<rect x="224.29999999999998" y="292.60" width="2.1" height="2.1" fill="#ED7D31"/>
<text x="227" y="294.85" font-size="3.85" fill="#333" stroke="#333" stroke-width="0.12" font-family="Liberation Serif, serif">N15 Ribosides</text>
<rect x="191.29999999999998" y="299.60" width="2.1" height="2.1" fill="#A5A5A5"/>
<text x="194" y="301.85" font-size="3.85" fill="#333" stroke="#333" stroke-width="0.12" font-family="Liberation Serif, serif">N15 O-glucosides</text>
<rect x="224.29999999999998" y="299.60" width="2.1" height="2.1" fill="#FFC000"/>
<text x="227" y="301.85" font-size="3.85" fill="#333" stroke="#333" stroke-width="0.12" font-family="Liberation Serif, serif">N15 N-glucosides</text>
<rect x="195.40" y="371.60" width="6.35" height="0.80" fill="#4a8fd9"/>
<path d="M198.58 371.40V371.80M197.88 371.40h1.4M197.88 371.80h1.4" stroke="#8a8a8a" stroke-width="0.3" fill="none"/>
<rect x="201.75" y="362.40" width="6.35" height="10.00" fill="#ED7D31"/>
<path d="M204.93 361.80V363.00M204.23 361.80h1.4M204.23 363.00h1.4" stroke="#8a8a8a" stroke-width="0.3" fill="none"/>
<rect x="208.10" y="358.00" width="6.35" height="14.40" fill="#A5A5A5"/>
<path d="M211.28 357.40V358.60M210.58 357.40h1.4M210.58 358.60h1.4" stroke="#8a8a8a" stroke-width="0.3" fill="none"/>
<rect x="214.45" y="312.60" width="6.35" height="59.80" fill="#FFC000"/>
<path d="M217.62 309.60V315.60M216.93 309.60h1.4M216.93 315.60h1.4" stroke="#8a8a8a" stroke-width="0.3" fill="none"/>
<rect x="233.60" y="371.20" width="6.35" height="1.20" fill="#4a8fd9"/>
<path d="M236.78 370.90V371.50M236.08 370.90h1.4M236.08 371.50h1.4" stroke="#8a8a8a" stroke-width="0.3" fill="none"/>
<rect x="239.95" y="358.80" width="6.35" height="13.60" fill="#ED7D31"/>
<path d="M243.12 358.20V359.40M242.43 358.20h1.4M242.43 359.40h1.4" stroke="#8a8a8a" stroke-width="0.3" fill="none"/>
<rect x="246.30" y="361.60" width="6.35" height="10.80" fill="#A5A5A5"/>
<path d="M249.47 361.00V362.20M248.78 361.00h1.4M248.78 362.20h1.4" stroke="#8a8a8a" stroke-width="0.3" fill="none"/>
<rect x="252.65" y="330.40" width="6.35" height="42.00" fill="#FFC000"/>
<path d="M255.82 328.40V332.40M255.12 328.40h1.4M255.12 332.40h1.4" stroke="#8a8a8a" stroke-width="0.3" fill="none"/>
<text x="208.3" y="378.45" font-size="3.7" text-anchor="middle" fill="#444" stroke="#444" stroke-width="0.06" font-family="Liberation Serif, serif">UN7</text>
<text x="246.2" y="378.45" font-size="3.7" text-anchor="middle" fill="#444" stroke="#444" stroke-width="0.06" font-family="Liberation Serif, serif">SN7</text>
<g fill="none" stroke="#5e8f3c" stroke-linecap="round" stroke-linejoin="round">
<polyline points="134.70,29.40 134.60,57.00 134.10,58.00 133.60,85.00 133.70,170.00 134.40,210.00 135.10,250.00 135.10,343.20" stroke-width="0.91" stroke="#5f933c"/>
<g transform="translate(134.64 44) scale(0.96)" stroke-width="0.85" stroke="#5a8a38">
<path d="M-16 -0.7L-10.9 -10.2C-9.8 -12.4 -6.2 -13 -4.6 -10.4C-3 -7.6 -2.3 -2 -2.5 2.6C-2.6 6 -3.4 10.6 -6.6 10.7C-8.4 10.8 -9.4 9.8 -10 8.8Z"/>
<path d="M16.1 1.8L11.4 -8.2C10.2 -10.6 6.4 -11.2 4.9 -8.4C3.4 -5.6 2.9 -1 3.2 4.4C3.4 7.6 4.6 11.6 8.2 11.7C10 11.7 11.2 10.6 11.9 9.4Z"/>
<path d="M-9.6 -1C-7 -2 -2.5 -2 -0.1 0.4M0.1 0.4C2.5 -1.2 7 -0.9 9.2 1" stroke-width="0.85"/>
</g>
<g transform="translate(133.6 85) scale(0.96)" stroke-width="0.85" stroke="#5a8a38">
<path d="M-16 -0.7L-10.9 -10.2C-9.8 -12.4 -6.2 -13 -4.6 -10.4C-3 -7.6 -2.3 -2 -2.5 2.6C-2.6 6 -3.4 10.6 -6.6 10.7C-8.4 10.8 -9.4 9.8 -10 8.8Z"/>
<path d="M16.1 1.8L11.4 -8.2C10.2 -10.6 6.4 -11.2 4.9 -8.4C3.4 -5.6 2.9 -1 3.2 4.4C3.4 7.6 4.6 11.6 8.2 11.7C10 11.7 11.2 10.6 11.9 9.4Z"/>
<path d="M-9.6 -1C-7 -2 -2.5 -2 -0.1 0.4M0.1 0.4C2.5 -1.2 7 -0.9 9.2 1" stroke-width="0.85"/>
</g>
<g transform="translate(133.65 129) scale(0.96)" stroke-width="0.85" stroke="#5a8a38">
<path d="M-16 -0.7L-10.9 -10.2C-9.8 -12.4 -6.2 -13 -4.6 -10.4C-3 -7.6 -2.3 -2 -2.5 2.6C-2.6 6 -3.4 10.6 -6.6 10.7C-8.4 10.8 -9.4 9.8 -10 8.8Z"/>
<path d="M16.1 1.8L11.4 -8.2C10.2 -10.6 6.4 -11.2 4.9 -8.4C3.4 -5.6 2.9 -1 3.2 4.4C3.4 7.6 4.6 11.6 8.2 11.7C10 11.7 11.2 10.6 11.9 9.4Z"/>
<path d="M-9.6 -1C-7 -2 -2.5 -2 -0.1 0.4M0.1 0.4C2.5 -1.2 7 -0.9 9.2 1" stroke-width="0.85"/>
</g>
<g transform="translate(133.78 174.5) scale(0.96)" stroke-width="0.85" stroke="#5a8a38">
<path d="M-16 -0.7L-10.9 -10.2C-9.8 -12.4 -6.2 -13 -4.6 -10.4C-3 -7.6 -2.3 -2 -2.5 2.6C-2.6 6 -3.4 10.6 -6.6 10.7C-8.4 10.8 -9.4 9.8 -10 8.8Z"/>
<path d="M16.1 1.8L11.4 -8.2C10.2 -10.6 6.4 -11.2 4.9 -8.4C3.4 -5.6 2.9 -1 3.2 4.4C3.4 7.6 4.6 11.6 8.2 11.7C10 11.7 11.2 10.6 11.9 9.4Z"/>
<path d="M-9.6 -1C-7 -2 -2.5 -2 -0.1 0.4M0.1 0.4C2.5 -1.2 7 -0.9 9.2 1" stroke-width="0.85"/>
</g>
<g transform="translate(134.59 221) scale(0.96)" stroke-width="0.85" stroke="#5a8a38">
<path d="M-16 -0.7L-10.9 -10.2C-9.8 -12.4 -6.2 -13 -4.6 -10.4C-3 -7.6 -2.3 -2 -2.5 2.6C-2.6 6 -3.4 10.6 -6.6 10.7C-8.4 10.8 -9.4 9.8 -10 8.8Z"/>
<path d="M16.1 1.8L11.4 -8.2C10.2 -10.6 6.4 -11.2 4.9 -8.4C3.4 -5.6 2.9 -1 3.2 4.4C3.4 7.6 4.6 11.6 8.2 11.7C10 11.7 11.2 10.6 11.9 9.4Z"/>
<path d="M-9.6 -1C-7 -2 -2.5 -2 -0.1 0.4M0.1 0.4C2.5 -1.2 7 -0.9 9.2 1" stroke-width="0.85"/>
</g>
<g transform="translate(135.1 272) scale(0.96)" stroke-width="0.85" stroke="#5a8a38">
<path d="M-16 -0.7L-10.9 -10.2C-9.8 -12.4 -6.2 -13 -4.6 -10.4C-3 -7.6 -2.3 -2 -2.5 2.6C-2.6 6 -3.4 10.6 -6.6 10.7C-8.4 10.8 -9.4 9.8 -10 8.8Z"/>
<path d="M16.1 1.8L11.4 -8.2C10.2 -10.6 6.4 -11.2 4.9 -8.4C3.4 -5.6 2.9 -1 3.2 4.4C3.4 7.6 4.6 11.6 8.2 11.7C10 11.7 11.2 10.6 11.9 9.4Z"/>
<path d="M-9.6 -1C-7 -2 -2.5 -2 -0.1 0.4M0.1 0.4C2.5 -1.2 7 -0.9 9.2 1" stroke-width="0.85"/>
</g>
<g transform="translate(135.1 314.3) scale(0.96)" stroke-width="0.85" stroke="#5a8a38">
<path d="M-16 -0.7L-10.9 -10.2C-9.8 -12.4 -6.2 -13 -4.6 -10.4C-3 -7.6 -2.3 -2 -2.5 2.6C-2.6 6 -3.4 10.6 -6.6 10.7C-8.4 10.8 -9.4 9.8 -10 8.8Z"/>
<path d="M16.1 1.8L11.4 -8.2C10.2 -10.6 6.4 -11.2 4.9 -8.4C3.4 -5.6 2.9 -1 3.2 4.4C3.4 7.6 4.6 11.6 8.2 11.7C10 11.7 11.2 10.6 11.9 9.4Z"/>
<path d="M-9.6 -1C-7 -2 -2.5 -2 -0.1 0.4M0.1 0.4C2.5 -1.2 7 -0.9 9.2 1" stroke-width="0.85"/>
</g>
</g>
<path d="M134.7 27.4l1.06 4.80h-2.13Z" fill="#4f8430"/>
<path d="M135.15 341.96 L136.63 341.95 L137.73 344.23 L138.77 346.09 L139.88 347.93 L140.46 350.83 L141.00 353.84 L141.21 357.20 L140.43 360.39 L139.75 363.28 L139.27 366.59 L138.17 368.98 L136.88 370.66 L135.51 372.08 L134.08 371.56 L132.79 370.81 L131.30 370.89 L130.08 369.23 L129.36 366.39 L128.65 363.67 L128.48 360.42 L128.61 357.20 L128.39 353.80 L128.86 350.43 L130.09 348.13 L131.15 345.84 L132.37 343.99 L133.75 343.22Z" fill="#4b7c2c" stroke="#4b7c2c" stroke-width="0.6" stroke-linejoin="round"/>
<g fill="none" stroke="#5e8f3c" stroke-linecap="round" stroke-linejoin="round">
<polyline points="409.20,29.60 409.20,56.00 408.80,57.00 408.20,85.00 408.30,120.00 408.60,170.00 409.00,200.00 409.40,245.00 409.30,327.00" stroke-width="0.84" stroke="#5f933c"/>
<g transform="translate(409.2 43.6) scale(0.885)" stroke-width="0.85" stroke="#5a8a38">
<path d="M-16 -0.7L-10.9 -10.2C-9.8 -12.4 -6.2 -13 -4.6 -10.4C-3 -7.6 -2.3 -2 -2.5 2.6C-2.6 6 -3.4 10.6 -6.6 10.7C-8.4 10.8 -9.4 9.8 -10 8.8Z"/>
<path d="M16.1 1.8L11.4 -8.2C10.2 -10.6 6.4 -11.2 4.9 -8.4C3.4 -5.6 2.9 -1 3.2 4.4C3.4 7.6 4.6 11.6 8.2 11.7C10 11.7 11.2 10.6 11.9 9.4Z"/>
<path d="M-9.6 -1C-7 -2 -2.5 -2 -0.1 0.4M0.1 0.4C2.5 -1.2 7 -0.9 9.2 1" stroke-width="0.85"/>
</g>
<g transform="translate(408.25 82.8) scale(0.885)" stroke-width="0.85" stroke="#5a8a38">
<path d="M-16 -0.7L-10.9 -10.2C-9.8 -12.4 -6.2 -13 -4.6 -10.4C-3 -7.6 -2.3 -2 -2.5 2.6C-2.6 6 -3.4 10.6 -6.6 10.7C-8.4 10.8 -9.4 9.8 -10 8.8Z"/>
<path d="M16.1 1.8L11.4 -8.2C10.2 -10.6 6.4 -11.2 4.9 -8.4C3.4 -5.6 2.9 -1 3.2 4.4C3.4 7.6 4.6 11.6 8.2 11.7C10 11.7 11.2 10.6 11.9 9.4Z"/>
<path d="M-9.6 -1C-7 -2 -2.5 -2 -0.1 0.4M0.1 0.4C2.5 -1.2 7 -0.9 9.2 1" stroke-width="0.85"/>
</g>
<g transform="translate(408.33 124.8) scale(0.885)" stroke-width="0.85" stroke="#5a8a38">
<path d="M-16 -0.7L-10.9 -10.2C-9.8 -12.4 -6.2 -13 -4.6 -10.4C-3 -7.6 -2.3 -2 -2.5 2.6C-2.6 6 -3.4 10.6 -6.6 10.7C-8.4 10.8 -9.4 9.8 -10 8.8Z"/>
<path d="M16.1 1.8L11.4 -8.2C10.2 -10.6 6.4 -11.2 4.9 -8.4C3.4 -5.6 2.9 -1 3.2 4.4C3.4 7.6 4.6 11.6 8.2 11.7C10 11.7 11.2 10.6 11.9 9.4Z"/>
<path d="M-9.6 -1C-7 -2 -2.5 -2 -0.1 0.4M0.1 0.4C2.5 -1.2 7 -0.9 9.2 1" stroke-width="0.85"/>
</g>
<g transform="translate(408.59 167.5) scale(0.885)" stroke-width="0.85" stroke="#5a8a38">
<path d="M-16 -0.7L-10.9 -10.2C-9.8 -12.4 -6.2 -13 -4.6 -10.4C-3 -7.6 -2.3 -2 -2.5 2.6C-2.6 6 -3.4 10.6 -6.6 10.7C-8.4 10.8 -9.4 9.8 -10 8.8Z"/>
<path d="M16.1 1.8L11.4 -8.2C10.2 -10.6 6.4 -11.2 4.9 -8.4C3.4 -5.6 2.9 -1 3.2 4.4C3.4 7.6 4.6 11.6 8.2 11.7C10 11.7 11.2 10.6 11.9 9.4Z"/>
<path d="M-9.6 -1C-7 -2 -2.5 -2 -0.1 0.4M0.1 0.4C2.5 -1.2 7 -0.9 9.2 1" stroke-width="0.85"/>
</g>
<g transform="translate(409.1 210.7) scale(0.885)" stroke-width="0.85" stroke="#5a8a38">
<path d="M-16 -0.7L-10.9 -10.2C-9.8 -12.4 -6.2 -13 -4.6 -10.4C-3 -7.6 -2.3 -2 -2.5 2.6C-2.6 6 -3.4 10.6 -6.6 10.7C-8.4 10.8 -9.4 9.8 -10 8.8Z"/>
<path d="M16.1 1.8L11.4 -8.2C10.2 -10.6 6.4 -11.2 4.9 -8.4C3.4 -5.6 2.9 -1 3.2 4.4C3.4 7.6 4.6 11.6 8.2 11.7C10 11.7 11.2 10.6 11.9 9.4Z"/>
<path d="M-9.6 -1C-7 -2 -2.5 -2 -0.1 0.4M0.1 0.4C2.5 -1.2 7 -0.9 9.2 1" stroke-width="0.85"/>
</g>
<g transform="translate(409.38 258.2) scale(0.885)" stroke-width="0.85" stroke="#5a8a38">
<path d="M-16 -0.7L-10.9 -10.2C-9.8 -12.4 -6.2 -13 -4.6 -10.4C-3 -7.6 -2.3 -2 -2.5 2.6C-2.6 6 -3.4 10.6 -6.6 10.7C-8.4 10.8 -9.4 9.8 -10 8.8Z"/>
<path d="M16.1 1.8L11.4 -8.2C10.2 -10.6 6.4 -11.2 4.9 -8.4C3.4 -5.6 2.9 -1 3.2 4.4C3.4 7.6 4.6 11.6 8.2 11.7C10 11.7 11.2 10.6 11.9 9.4Z"/>
<path d="M-9.6 -1C-7 -2 -2.5 -2 -0.1 0.4M0.1 0.4C2.5 -1.2 7 -0.9 9.2 1" stroke-width="0.85"/>
</g>
<g transform="translate(409.34 299.3) scale(0.885)" stroke-width="0.85" stroke="#5a8a38">
<path d="M-16 -0.7L-10.9 -10.2C-9.8 -12.4 -6.2 -13 -4.6 -10.4C-3 -7.6 -2.3 -2 -2.5 2.6C-2.6 6 -3.4 10.6 -6.6 10.7C-8.4 10.8 -9.4 9.8 -10 8.8Z"/>
<path d="M16.1 1.8L11.4 -8.2C10.2 -10.6 6.4 -11.2 4.9 -8.4C3.4 -5.6 2.9 -1 3.2 4.4C3.4 7.6 4.6 11.6 8.2 11.7C10 11.7 11.2 10.6 11.9 9.4Z"/>
<path d="M-9.6 -1C-7 -2 -2.5 -2 -0.1 0.4M0.1 0.4C2.5 -1.2 7 -0.9 9.2 1" stroke-width="0.85"/>
</g>
</g>
<path d="M409.2 27.6l1.00 4.42h-1.99Z" fill="#4f8430"/>
<path d="M409.42 325.69 L410.80 325.68 L411.83 327.82 L412.81 329.56 L413.85 331.30 L414.39 334.01 L414.89 336.84 L415.09 340.00 L414.36 343.00 L413.73 345.71 L413.28 348.82 L412.25 351.06 L411.03 352.64 L409.75 353.98 L408.41 353.49 L407.20 352.78 L405.81 352.86 L404.67 351.30 L404.00 348.63 L403.33 346.08 L403.16 343.03 L403.29 340.00 L403.08 336.81 L403.53 333.65 L404.67 331.48 L405.67 329.33 L406.81 327.60 L408.10 326.87Z" fill="#4b7c2c" stroke="#4b7c2c" stroke-width="0.6" stroke-linejoin="round"/>
<path d="M351.70 30.60A39.4 39.4 0 0 1 356.64 30.91L354.84 45.15A25.049999999999997 25.049999999999997 0 0 0 351.70 44.95Z" fill="#A80D3D" stroke="#A80D3D" stroke-width="0.25"/>
<path d="M356.64 30.91A39.4 39.4 0 0 1 357.62 31.05L355.46 45.23A25.049999999999997 25.049999999999997 0 0 0 354.84 45.15Z" fill="#99FF66" stroke="#99FF66" stroke-width="0.25"/>
<path d="M357.62 31.05A39.4 39.4 0 0 1 382.68 45.66L371.40 54.52A25.049999999999997 25.049999999999997 0 0 0 355.46 45.23Z" fill="#048104" stroke="#048104" stroke-width="0.25"/>
<path d="M382.68 45.66A39.4 39.4 0 0 1 385.49 49.73L373.18 57.11A25.049999999999997 25.049999999999997 0 0 0 371.40 54.52Z" fill="#0A98A0" stroke="#0A98A0" stroke-width="0.25"/>
<path d="M385.49 49.73A39.4 39.4 0 0 1 386.46 51.45L373.80 58.21A25.049999999999997 25.049999999999997 0 0 0 373.18 57.11Z" fill="#066A67" stroke="#066A67" stroke-width="0.25"/>
<path d="M386.46 51.45A39.4 39.4 0 0 1 324.37 98.38L334.32 88.04A25.049999999999997 25.049999999999997 0 0 0 373.80 58.21Z" fill="#CDD72C" stroke="#CDD72C" stroke-width="0.25"/>
<path d="M324.37 98.38A39.4 39.4 0 0 1 312.91 76.90L327.04 74.38A25.049999999999997 25.049999999999997 0 0 0 334.32 88.04Z" fill="#A99595" stroke="#A99595" stroke-width="0.25"/>
<path d="M312.91 76.90A39.4 39.4 0 0 1 313.09 62.13L327.15 65.00A25.049999999999997 25.049999999999997 0 0 0 327.04 74.38Z" fill="#10FDC6" stroke="#10FDC6" stroke-width="0.25"/>
<path d="M313.09 62.13A39.4 39.4 0 0 1 351.70 30.60L351.70 44.95A25.049999999999997 25.049999999999997 0 0 0 327.15 65.00Z" fill="#C6C6C6" stroke="#C6C6C6" stroke-width="0.25"/>
<path d="M351.70 44.35A25.65 25.65 0 0 1 356.51 44.80L353.93 58.31A11.9 11.9 0 0 0 351.70 58.10Z" fill="#A80D3D" stroke="#A80D3D" stroke-width="0.25"/>
<path d="M356.51 44.80A25.65 25.65 0 0 1 376.90 65.19L363.39 67.77A11.9 11.9 0 0 0 353.93 58.31Z" fill="#048104" stroke="#048104" stroke-width="0.25"/>
<path d="M376.90 65.19A25.65 25.65 0 0 1 377.19 67.11L363.52 68.66A11.9 11.9 0 0 0 363.39 67.77Z" fill="#0A98A0" stroke="#0A98A0" stroke-width="0.25"/>
<path d="M377.19 67.11A25.65 25.65 0 0 1 377.25 67.75L363.55 68.95A11.9 11.9 0 0 0 363.52 68.66Z" fill="#066A67" stroke="#066A67" stroke-width="0.25"/>
<path d="M377.25 67.75A25.65 25.65 0 0 1 342.86 94.08L347.60 81.17A11.9 11.9 0 0 0 363.55 68.95Z" fill="#CDD72C" stroke="#CDD72C" stroke-width="0.25"/>
<path d="M342.86 94.08A25.65 25.65 0 0 1 331.33 85.59L342.25 77.23A11.9 11.9 0 0 0 347.60 81.17Z" fill="#A99595" stroke="#A99595" stroke-width="0.25"/>
<path d="M331.33 85.59A25.65 25.65 0 0 1 327.51 78.54L340.48 73.96A11.9 11.9 0 0 0 342.25 77.23Z" fill="#10FDC6" stroke="#10FDC6" stroke-width="0.25"/>
<path d="M327.51 78.54A25.65 25.65 0 0 1 351.70 44.35L351.70 58.10A11.9 11.9 0 0 0 340.48 73.96Z" fill="#C6C6C6" stroke="#C6C6C6" stroke-width="0.25"/>
<text x="353.74" y="38.99" font-size="4.6" text-anchor="middle" fill="#303030" stroke="#303030" stroke-width="0.12" font-family="Liberation Serif, serif">2%</text>
<text x="368.08" y="43.35" font-size="4.6" text-anchor="middle" fill="#303030" stroke="#303030" stroke-width="0.12" font-family="Liberation Serif, serif">12%</text>
<text x="378.49" y="53.00" font-size="4.6" text-anchor="middle" fill="#303030" stroke="#303030" stroke-width="0.12" font-family="Liberation Serif, serif">2%</text>
<text x="380.87" y="54.93" font-size="4.6" text-anchor="middle" fill="#303030" stroke="#303030" stroke-width="0.12" font-family="Liberation Serif, serif">1%</text>
<text x="371.31" y="97.40" font-size="4.6" text-anchor="middle" fill="#303030" stroke="#303030" stroke-width="0.12" font-family="Liberation Serif, serif">45%</text>
<text x="323.00" y="86.76" font-size="4.6" text-anchor="middle" fill="#303030" stroke="#303030" stroke-width="0.12" font-family="Liberation Serif, serif">10%</text>
<text x="319.18" y="71.04" font-size="4.6" text-anchor="middle" fill="#303030" stroke="#303030" stroke-width="0.12" font-family="Liberation Serif, serif">6%</text>
<text x="331.13" y="46.26" font-size="4.6" text-anchor="middle" fill="#303030" stroke="#303030" stroke-width="0.12" font-family="Liberation Serif, serif">22%</text>
<text x="353.47" y="52.76" font-size="4.6" text-anchor="middle" fill="#303030" stroke="#303030" stroke-width="0.12" font-family="Liberation Serif, serif">3%</text>
<text x="364.98" y="58.17" font-size="4.6" text-anchor="middle" fill="#303030" stroke="#303030" stroke-width="0.12" font-family="Liberation Serif, serif">19%</text>
<text x="370.26" y="68.63" font-size="4.6" text-anchor="middle" fill="#303030" stroke="#303030" stroke-width="0.12" font-family="Liberation Serif, serif">1%</text>
<text x="363.11" y="86.36" font-size="4.6" text-anchor="middle" fill="#303030" stroke="#303030" stroke-width="0.12" font-family="Liberation Serif, serif">32%</text>
<text x="340.57" y="86.57" font-size="4.6" text-anchor="middle" fill="#303030" stroke="#303030" stroke-width="0.12" font-family="Liberation Serif, serif">9%</text>
<text x="335.19" y="80.39" font-size="4.6" text-anchor="middle" fill="#303030" stroke="#303030" stroke-width="0.12" font-family="Liberation Serif, serif">5%</text>
<text x="336.37" y="60.61" font-size="4.6" text-anchor="middle" fill="#303030" stroke="#303030" stroke-width="0.12" font-family="Liberation Serif, serif">31%</text>
<path d="M349.60 122.40A39.1 39.1 0 0 1 351.07 122.43L350.53 136.77A24.75 24.75 0 0 0 349.60 136.75Z" fill="#A80D3D" stroke="#A80D3D" stroke-width="0.25"/>
<path d="M351.07 122.43A39.1 39.1 0 0 1 366.25 126.12L360.14 139.11A24.75 24.75 0 0 0 350.53 136.77Z" fill="#048104" stroke="#048104" stroke-width="0.25"/>
<path d="M366.25 126.12A39.1 39.1 0 0 1 376.37 133.00L366.54 143.46A24.75 24.75 0 0 0 360.14 139.11Z" fill="#0A98A0" stroke="#0A98A0" stroke-width="0.25"/>
<path d="M376.37 133.00A39.1 39.1 0 0 1 378.10 134.73L367.64 144.56A24.75 24.75 0 0 0 366.54 143.46Z" fill="#066A67" stroke="#066A67" stroke-width="0.25"/>
<path d="M378.10 134.73A39.1 39.1 0 1 1 311.19 168.83L325.29 166.14A24.75 24.75 0 1 0 367.64 144.56Z" fill="#CDD72C" stroke="#CDD72C" stroke-width="0.25"/>
<path d="M311.19 168.83A39.1 39.1 0 0 1 316.59 140.55L328.70 148.24A24.75 24.75 0 0 0 325.29 166.14Z" fill="#A99595" stroke="#A99595" stroke-width="0.25"/>
<path d="M316.59 140.55A39.1 39.1 0 0 1 330.76 127.24L337.68 139.81A24.75 24.75 0 0 0 328.70 148.24Z" fill="#10FDC6" stroke="#10FDC6" stroke-width="0.25"/>
<path d="M330.76 127.24A39.1 39.1 0 0 1 347.14 122.48L348.05 136.80A24.75 24.75 0 0 0 337.68 139.81Z" fill="#C6C6C6" stroke="#C6C6C6" stroke-width="0.25"/>
<path d="M347.14 122.48A39.1 39.1 0 0 1 349.60 122.40L349.60 136.75A24.75 24.75 0 0 0 348.05 136.80Z" fill="#12E4FA" stroke="#12E4FA" stroke-width="0.25"/>
<path d="M349.60 136.15A25.35 25.35 0 0 1 354.35 136.60L351.77 150.11A11.6 11.6 0 0 0 349.60 149.90Z" fill="#A80D3D" stroke="#A80D3D" stroke-width="0.25"/>
<path d="M354.35 136.60A25.35 25.35 0 0 1 372.54 172.29L360.10 166.44A11.6 11.6 0 0 0 351.77 150.11Z" fill="#048104" stroke="#048104" stroke-width="0.25"/>
<path d="M372.54 172.29A25.35 25.35 0 0 1 371.66 173.99L359.69 167.22A11.6 11.6 0 0 0 360.10 166.44Z" fill="#0A98A0" stroke="#0A98A0" stroke-width="0.25"/>
<path d="M371.66 173.99A25.35 25.35 0 0 1 371.17 174.81L359.47 167.59A11.6 11.6 0 0 0 359.69 167.22Z" fill="#066A67" stroke="#066A67" stroke-width="0.25"/>
<path d="M371.17 174.81A25.35 25.35 0 0 1 326.15 171.13L338.87 165.91A11.6 11.6 0 0 0 359.47 167.59Z" fill="#CDD72C" stroke="#CDD72C" stroke-width="0.25"/>
<path d="M326.15 171.13A25.35 25.35 0 0 1 324.64 157.06L338.18 159.47A11.6 11.6 0 0 0 338.87 165.91Z" fill="#A99595" stroke="#A99595" stroke-width="0.25"/>
<path d="M324.64 157.06A25.35 25.35 0 0 1 326.53 151.00L339.04 156.69A11.6 11.6 0 0 0 338.18 159.47Z" fill="#10FDC6" stroke="#10FDC6" stroke-width="0.25"/>
<path d="M326.53 151.00A25.35 25.35 0 0 1 349.60 136.15L349.60 149.90A11.6 11.6 0 0 0 339.04 156.69Z" fill="#C6C6C6" stroke="#C6C6C6" stroke-width="0.25"/>
<text x="357.22" y="131.64" font-size="4.6" text-anchor="middle" fill="#303030" stroke="#303030" stroke-width="0.12" font-family="Liberation Serif, serif">6%</text>
<text x="367.71" y="136.30" font-size="4.6" text-anchor="middle" fill="#303030" stroke="#303030" stroke-width="0.12" font-family="Liberation Serif, serif">5%</text>
<text x="372.39" y="140.16" font-size="4.6" text-anchor="middle" fill="#303030" stroke="#303030" stroke-width="0.12" font-family="Liberation Serif, serif">1%</text>
<text x="364.23" y="191.66" font-size="4.6" text-anchor="middle" fill="#303030" stroke="#303030" stroke-width="0.12" font-family="Liberation Serif, serif">59%</text>
<text x="317.95" y="156.91" font-size="4.6" text-anchor="middle" fill="#303030" stroke="#303030" stroke-width="0.12" font-family="Liberation Serif, serif">12%</text>
<text x="327.54" y="139.46" font-size="4.6" text-anchor="middle" fill="#303030" stroke="#303030" stroke-width="0.12" font-family="Liberation Serif, serif">8%</text>
<text x="340.61" y="132.00" font-size="4.6" text-anchor="middle" fill="#303030" stroke="#303030" stroke-width="0.12" font-family="Liberation Serif, serif">7%</text>
<text x="348.59" y="130.74" font-size="4.6" text-anchor="middle" fill="#303030" stroke="#303030" stroke-width="0.12" font-family="Liberation Serif, serif">1%</text>
<text x="351.34" y="144.56" font-size="4.6" text-anchor="middle" fill="#303030" stroke="#303030" stroke-width="0.12" font-family="Liberation Serif, serif">3%</text>
<text x="366.06" y="154.56" font-size="4.6" text-anchor="middle" fill="#303030" stroke="#303030" stroke-width="0.12" font-family="Liberation Serif, serif">29%</text>
<text x="366.01" y="171.44" font-size="4.6" text-anchor="middle" fill="#303030" stroke="#303030" stroke-width="0.12" font-family="Liberation Serif, serif">1%</text>
<text x="348.09" y="181.36" font-size="4.6" text-anchor="middle" fill="#303030" stroke="#303030" stroke-width="0.12" font-family="Liberation Serif, serif">35%</text>
<text x="331.23" y="164.92" font-size="4.6" text-anchor="middle" fill="#303030" stroke="#303030" stroke-width="0.12" font-family="Liberation Serif, serif">9%</text>
<text x="331.96" y="157.46" font-size="4.6" text-anchor="middle" fill="#303030" stroke="#303030" stroke-width="0.12" font-family="Liberation Serif, serif">4%</text>
<text x="339.60" y="147.41" font-size="4.6" text-anchor="middle" fill="#303030" stroke="#303030" stroke-width="0.12" font-family="Liberation Serif, serif">17%</text>
<path d="M346.80 220.30A36.8 36.8 0 0 1 349.11 220.37L348.26 233.90A23.249999999999996 23.249999999999996 0 0 0 346.80 233.85Z" fill="#A80D3D" stroke="#A80D3D" stroke-width="0.25"/>
<path d="M349.11 220.37A36.8 36.8 0 0 1 366.52 226.03L359.26 237.47A23.249999999999996 23.249999999999996 0 0 0 348.26 233.90Z" fill="#048104" stroke="#048104" stroke-width="0.25"/>
<path d="M366.52 226.03A36.8 36.8 0 0 1 373.63 231.91L363.75 241.18A23.249999999999996 23.249999999999996 0 0 0 359.26 237.47Z" fill="#0A98A0" stroke="#0A98A0" stroke-width="0.25"/>
<path d="M373.63 231.91A36.8 36.8 0 0 1 374.10 232.42L364.05 241.51A23.249999999999996 23.249999999999996 0 0 0 363.75 241.18Z" fill="#066A67" stroke="#066A67" stroke-width="0.25"/>
<path d="M374.10 232.42A36.8 36.8 0 1 1 314.55 274.83L326.43 268.30A23.249999999999996 23.249999999999996 0 1 0 364.05 241.51Z" fill="#CDD72C" stroke="#CDD72C" stroke-width="0.25"/>
<path d="M314.55 274.83A36.8 36.8 0 0 1 310.07 254.79L323.60 255.64A23.249999999999996 23.249999999999996 0 0 0 326.43 268.30Z" fill="#A99595" stroke="#A99595" stroke-width="0.25"/>
<path d="M310.07 254.79A36.8 36.8 0 0 1 315.73 237.38L327.17 244.64A23.249999999999996 23.249999999999996 0 0 0 323.60 255.64Z" fill="#10FDC6" stroke="#10FDC6" stroke-width="0.25"/>
<path d="M315.73 237.38A36.8 36.8 0 0 1 346.80 220.30L346.80 233.85A23.249999999999996 23.249999999999996 0 0 0 327.17 244.64Z" fill="#C6C6C6" stroke="#C6C6C6" stroke-width="0.25"/>
<path d="M346.80 233.25A23.849999999999998 23.849999999999998 0 0 1 351.27 233.67L348.84 246.39A10.9 10.9 0 0 0 346.80 246.20Z" fill="#A80D3D" stroke="#A80D3D" stroke-width="0.25"/>
<path d="M351.27 233.67A23.849999999999998 23.849999999999998 0 0 1 370.60 258.60L357.68 257.78A10.9 10.9 0 0 0 348.84 246.39Z" fill="#048104" stroke="#048104" stroke-width="0.25"/>
<path d="M370.60 258.60A23.849999999999998 23.849999999999998 0 0 1 370.23 261.57L357.51 259.14A10.9 10.9 0 0 0 357.68 257.78Z" fill="#0A98A0" stroke="#0A98A0" stroke-width="0.25"/>
<path d="M370.23 261.57A23.849999999999998 23.849999999999998 0 0 1 369.97 262.74L357.39 259.68A10.9 10.9 0 0 0 357.51 259.14Z" fill="#066A67" stroke="#066A67" stroke-width="0.25"/>
<path d="M369.97 262.74A23.849999999999998 23.849999999999998 0 0 1 324.21 264.75L336.48 260.60A10.9 10.9 0 0 0 357.39 259.68Z" fill="#CDD72C" stroke="#CDD72C" stroke-width="0.25"/>
<path d="M324.21 264.75A23.849999999999998 23.849999999999998 0 0 1 324.52 248.60L336.62 253.22A10.9 10.9 0 0 0 336.48 260.60Z" fill="#A99595" stroke="#A99595" stroke-width="0.25"/>
<path d="M324.52 248.60A23.849999999999998 23.849999999999998 0 0 1 328.23 242.13L338.31 250.26A10.9 10.9 0 0 0 336.62 253.22Z" fill="#10FDC6" stroke="#10FDC6" stroke-width="0.25"/>
<path d="M328.23 242.13A23.849999999999998 23.849999999999998 0 0 1 346.80 233.25L346.80 246.20A10.9 10.9 0 0 0 338.31 250.26Z" fill="#C6C6C6" stroke="#C6C6C6" stroke-width="0.25"/>
<text x="347.75" y="228.24" font-size="4.6" text-anchor="middle" fill="#303030" stroke="#303030" stroke-width="0.12" font-family="Liberation Serif, serif">1%</text>
<text x="356.17" y="229.71" font-size="4.6" text-anchor="middle" fill="#303030" stroke="#303030" stroke-width="0.12" font-family="Liberation Serif, serif">8%</text>
<text x="366.13" y="235.18" font-size="4.6" text-anchor="middle" fill="#303030" stroke="#303030" stroke-width="0.12" font-family="Liberation Serif, serif">4%</text>
<text x="364.39" y="283.25" font-size="4.6" text-anchor="middle" fill="#303030" stroke="#303030" stroke-width="0.12" font-family="Liberation Serif, serif">54%</text>
<text x="317.21" y="265.17" font-size="4.6" text-anchor="middle" fill="#303030" stroke="#303030" stroke-width="0.12" font-family="Liberation Serif, serif">9%</text>
<text x="317.96" y="249.18" font-size="4.6" text-anchor="middle" fill="#303030" stroke="#303030" stroke-width="0.12" font-family="Liberation Serif, serif">8%</text>
<text x="332.19" y="231.98" font-size="4.6" text-anchor="middle" fill="#303030" stroke="#303030" stroke-width="0.12" font-family="Liberation Serif, serif">16%</text>
<text x="348.44" y="241.25" font-size="4.6" text-anchor="middle" fill="#303030" stroke="#303030" stroke-width="0.12" font-family="Liberation Serif, serif">3%</text>
<text x="360.53" y="247.90" font-size="4.6" text-anchor="middle" fill="#303030" stroke="#303030" stroke-width="0.12" font-family="Liberation Serif, serif">23%</text>
<text x="364.04" y="260.73" font-size="4.6" text-anchor="middle" fill="#303030" stroke="#303030" stroke-width="0.12" font-family="Liberation Serif, serif">2%</text>
<text x="363.78" y="262.23" font-size="4.6" text-anchor="middle" fill="#303030" stroke="#303030" stroke-width="0.12" font-family="Liberation Serif, serif">1%</text>
<text x="347.56" y="275.91" font-size="4.6" text-anchor="middle" fill="#303030" stroke="#303030" stroke-width="0.12" font-family="Liberation Serif, serif">41%</text>
<text x="329.43" y="258.22" font-size="4.6" text-anchor="middle" fill="#303030" stroke="#303030" stroke-width="0.12" font-family="Liberation Serif, serif">11%</text>
<text x="331.73" y="249.89" font-size="4.6" text-anchor="middle" fill="#303030" stroke="#303030" stroke-width="0.12" font-family="Liberation Serif, serif">5%</text>
<text x="339.30" y="242.88" font-size="4.6" text-anchor="middle" fill="#303030" stroke="#303030" stroke-width="0.12" font-family="Liberation Serif, serif">13%</text>
<path d="M350.70 305.70A38.8 38.8 0 0 1 354.59 305.90L351.84 333.16A11.4 11.4 0 0 0 350.70 333.10Z" fill="#A80D3D" stroke="#A80D3D" stroke-width="0.25"/>
<path d="M354.59 305.90A38.8 38.8 0 0 1 373.51 313.11L357.40 335.28A11.4 11.4 0 0 0 351.84 333.16Z" fill="#048104" stroke="#048104" stroke-width="0.25"/>
<path d="M373.51 313.11A38.8 38.8 0 0 1 377.26 316.22L358.50 336.19A11.4 11.4 0 0 0 357.40 335.28Z" fill="#0A98A0" stroke="#0A98A0" stroke-width="0.25"/>
<path d="M377.26 316.22A38.8 38.8 0 0 1 364.98 380.58L354.90 355.10A11.4 11.4 0 0 0 358.50 336.19Z" fill="#066A67" stroke="#066A67" stroke-width="0.25"/>
<path d="M364.98 380.58A38.8 38.8 0 0 1 313.12 334.85L339.66 341.66A11.4 11.4 0 0 0 354.90 355.10Z" fill="#CDD72C" stroke="#CDD72C" stroke-width="0.25"/>
<path d="M313.12 334.85A38.8 38.8 0 0 1 332.01 310.50L345.21 334.51A11.4 11.4 0 0 0 339.66 341.66Z" fill="#A99595" stroke="#A99595" stroke-width="0.25"/>
<path d="M332.01 310.50A38.8 38.8 0 0 1 350.70 305.70L350.70 333.10A11.4 11.4 0 0 0 345.21 334.51Z" fill="#10FDC6" stroke="#10FDC6" stroke-width="0.25"/>
<text x="351.96" y="320.88" font-size="4.6" text-anchor="middle" fill="#303030" stroke="#303030" stroke-width="0.12" font-family="Liberation Serif, serif">2%</text>
<text x="359.65" y="322.50" font-size="4.6" text-anchor="middle" fill="#303030" stroke="#303030" stroke-width="0.12" font-family="Liberation Serif, serif">8%</text>
<text x="366.70" y="326.61" font-size="4.6" text-anchor="middle" fill="#303030" stroke="#303030" stroke-width="0.12" font-family="Liberation Serif, serif">2%</text>
<text x="379.28" y="351.40" font-size="4.6" text-anchor="middle" fill="#303030" stroke="#303030" stroke-width="0.12" font-family="Liberation Serif, serif">32%</text>
<text x="332.12" y="367.03" font-size="4.6" text-anchor="middle" fill="#303030" stroke="#303030" stroke-width="0.12" font-family="Liberation Serif, serif">35%</text>
<text x="330.87" y="330.57" font-size="4.6" text-anchor="middle" fill="#303030" stroke="#303030" stroke-width="0.12" font-family="Liberation Serif, serif">13%</text>
<text x="344.46" y="321.64" font-size="4.6" text-anchor="middle" fill="#303030" stroke="#303030" stroke-width="0.12" font-family="Liberation Serif, serif">8%</text>
<path d="M473.00 7.00A40.5 40.5 0 0 1 478.08 7.32L476.21 22.10A25.599999999999998 25.599999999999998 0 0 0 473.00 21.90Z" fill="#A80D3D" stroke="#A80D3D" stroke-width="0.25"/>
<path d="M478.08 7.32A40.5 40.5 0 0 1 479.08 7.46L476.85 22.19A25.599999999999998 25.599999999999998 0 0 0 476.21 22.10Z" fill="#99FF66" stroke="#99FF66" stroke-width="0.25"/>
<path d="M479.08 7.46A40.5 40.5 0 0 1 503.21 20.53L492.10 30.45A25.599999999999998 25.599999999999998 0 0 0 476.85 22.19Z" fill="#048104" stroke="#048104" stroke-width="0.25"/>
<path d="M503.21 20.53A40.5 40.5 0 0 1 510.07 31.18L496.43 37.19A25.599999999999998 25.599999999999998 0 0 0 492.10 30.45Z" fill="#0A98A0" stroke="#0A98A0" stroke-width="0.25"/>
<path d="M510.07 31.18A40.5 40.5 0 0 1 510.84 33.07L496.92 38.38A25.599999999999998 25.599999999999998 0 0 0 496.43 37.19Z" fill="#066A67" stroke="#066A67" stroke-width="0.25"/>
<path d="M510.84 33.07A40.5 40.5 0 0 1 438.53 68.77L451.21 60.94A25.599999999999998 25.599999999999998 0 0 0 496.92 38.38Z" fill="#CDD72C" stroke="#CDD72C" stroke-width="0.25"/>
<path d="M438.53 68.77A40.5 40.5 0 0 1 433.32 39.41L447.92 42.39A25.599999999999998 25.599999999999998 0 0 0 451.21 60.94Z" fill="#A99595" stroke="#A99595" stroke-width="0.25"/>
<path d="M433.32 39.41A40.5 40.5 0 0 1 440.54 23.28L452.48 32.19A25.599999999999998 25.599999999999998 0 0 0 447.92 42.39Z" fill="#10FDC6" stroke="#10FDC6" stroke-width="0.25"/>
<path d="M440.54 23.28A40.5 40.5 0 0 1 473.00 7.00L473.00 21.90A25.599999999999998 25.599999999999998 0 0 0 452.48 32.19Z" fill="#C6C6C6" stroke="#C6C6C6" stroke-width="0.25"/>
<path d="M473.00 21.30A26.2 26.2 0 0 1 479.52 22.12L475.96 35.97A11.9 11.9 0 0 0 473.00 35.60Z" fill="#A80D3D" stroke="#A80D3D" stroke-width="0.25"/>
<path d="M479.52 22.12A26.2 26.2 0 0 1 479.99 22.25L476.18 36.03A11.9 11.9 0 0 0 475.96 35.97Z" fill="#99FF66" stroke="#99FF66" stroke-width="0.25"/>
<path d="M479.99 22.25A26.2 26.2 0 0 1 492.10 65.44L481.67 55.65A11.9 11.9 0 0 0 476.18 36.03Z" fill="#048104" stroke="#048104" stroke-width="0.25"/>
<path d="M492.10 65.44A26.2 26.2 0 0 1 488.40 68.70L479.99 57.13A11.9 11.9 0 0 0 481.67 55.65Z" fill="#0A98A0" stroke="#0A98A0" stroke-width="0.25"/>
<path d="M488.40 68.70A26.2 26.2 0 0 1 487.59 69.26L479.63 57.38A11.9 11.9 0 0 0 479.99 57.13Z" fill="#066A67" stroke="#066A67" stroke-width="0.25"/>
<path d="M487.59 69.26A26.2 26.2 0 0 1 446.93 44.87L461.16 46.31A11.9 11.9 0 0 0 479.63 57.38Z" fill="#CDD72C" stroke="#CDD72C" stroke-width="0.25"/>
<path d="M446.93 44.87A26.2 26.2 0 0 1 450.53 34.02L462.80 41.38A11.9 11.9 0 0 0 461.16 46.31Z" fill="#A99595" stroke="#A99595" stroke-width="0.25"/>
<path d="M450.53 34.02A26.2 26.2 0 0 1 453.46 30.05L464.12 39.57A11.9 11.9 0 0 0 462.80 41.38Z" fill="#10FDC6" stroke="#10FDC6" stroke-width="0.25"/>
<path d="M453.46 30.05A26.2 26.2 0 0 1 473.00 21.30L473.00 35.60A11.9 11.9 0 0 0 464.12 39.57Z" fill="#C6C6C6" stroke="#C6C6C6" stroke-width="0.25"/>
<text x="475.09" y="15.67" font-size="4.6" text-anchor="middle" fill="#303030" stroke="#303030" stroke-width="0.12" font-family="Liberation Serif, serif">2%</text>
<text x="488.88" y="19.62" font-size="4.6" text-anchor="middle" fill="#303030" stroke="#303030" stroke-width="0.12" font-family="Liberation Serif, serif">11%</text>
<text x="501.05" y="30.90" font-size="4.6" text-anchor="middle" fill="#303030" stroke="#303030" stroke-width="0.12" font-family="Liberation Serif, serif">5%</text>
<text x="503.85" y="36.28" font-size="4.6" text-anchor="middle" fill="#303030" stroke="#303030" stroke-width="0.12" font-family="Liberation Serif, serif">1%</text>
<text x="487.77" y="78.85" font-size="4.6" text-anchor="middle" fill="#303030" stroke="#303030" stroke-width="0.12" font-family="Liberation Serif, serif">47%</text>
<text x="440.16" y="54.79" font-size="4.6" text-anchor="middle" fill="#303030" stroke="#303030" stroke-width="0.12" font-family="Liberation Serif, serif">12%</text>
<text x="442.56" y="35.32" font-size="4.6" text-anchor="middle" fill="#303030" stroke="#303030" stroke-width="0.12" font-family="Liberation Serif, serif">7%</text>
<text x="458.05" y="19.14" font-size="4.6" text-anchor="middle" fill="#303030" stroke="#303030" stroke-width="0.12" font-family="Liberation Serif, serif">15%</text>
<text x="475.39" y="30.05" font-size="4.6" text-anchor="middle" fill="#303030" stroke="#303030" stroke-width="0.12" font-family="Liberation Serif, serif">4%</text>
<text x="491.34" y="43.81" font-size="4.6" text-anchor="middle" fill="#303030" stroke="#303030" stroke-width="0.12" font-family="Liberation Serif, serif">33%</text>
<text x="485.60" y="63.24" font-size="4.6" text-anchor="middle" fill="#303030" stroke="#303030" stroke-width="0.12" font-family="Liberation Serif, serif">1%</text>
<text x="463.20" y="65.29" font-size="4.6" text-anchor="middle" fill="#303030" stroke="#303030" stroke-width="0.12" font-family="Liberation Serif, serif">36%</text>
<text x="454.92" y="42.95" font-size="4.6" text-anchor="middle" fill="#303030" stroke="#303030" stroke-width="0.12" font-family="Liberation Serif, serif">7%</text>
<text x="457.66" y="37.66" font-size="4.6" text-anchor="middle" fill="#303030" stroke="#303030" stroke-width="0.12" font-family="Liberation Serif, serif">3%</text>
<text x="465.22" y="31.56" font-size="4.6" text-anchor="middle" fill="#303030" stroke="#303030" stroke-width="0.12" font-family="Liberation Serif, serif">13%</text>
<path d="M475.30 91.20A40.6 40.6 0 0 1 477.85 91.28L476.91 106.20A25.65 25.65 0 0 0 475.30 106.15Z" fill="#A80D3D" stroke="#A80D3D" stroke-width="0.25"/>
<path d="M477.85 91.28A40.6 40.6 0 0 1 494.86 96.22L487.66 109.32A25.65 25.65 0 0 0 476.91 106.20Z" fill="#048104" stroke="#048104" stroke-width="0.25"/>
<path d="M494.86 96.22A40.6 40.6 0 0 1 503.09 102.20L492.86 113.10A25.65 25.65 0 0 0 487.66 109.32Z" fill="#0A98A0" stroke="#0A98A0" stroke-width="0.25"/>
<path d="M503.09 102.20A40.6 40.6 0 1 1 437.55 146.75L451.45 141.24A25.65 25.65 0 1 0 492.86 113.10Z" fill="#CDD72C" stroke="#CDD72C" stroke-width="0.25"/>
<path d="M437.55 146.75A40.6 40.6 0 0 1 436.69 119.25L450.91 123.87A25.65 25.65 0 0 0 451.45 141.24Z" fill="#A99595" stroke="#A99595" stroke-width="0.25"/>
<path d="M436.69 119.25A40.6 40.6 0 0 1 444.02 105.92L455.54 115.45A25.65 25.65 0 0 0 450.91 123.87Z" fill="#10FDC6" stroke="#10FDC6" stroke-width="0.25"/>
<path d="M444.02 105.92A40.6 40.6 0 0 1 475.30 91.20L475.30 106.15A25.65 25.65 0 0 0 455.54 115.45Z" fill="#C6C6C6" stroke="#C6C6C6" stroke-width="0.25"/>
<path d="M475.30 105.55A26.25 26.25 0 0 1 480.22 106.01L477.53 120.11A11.9 11.9 0 0 0 475.30 119.90Z" fill="#A80D3D" stroke="#A80D3D" stroke-width="0.25"/>
<path d="M480.22 106.01A26.25 26.25 0 0 1 500.27 123.69L486.62 128.12A11.9 11.9 0 0 0 477.53 120.11Z" fill="#048104" stroke="#048104" stroke-width="0.25"/>
<path d="M500.27 123.69A26.25 26.25 0 0 1 501.09 126.88L486.99 129.57A11.9 11.9 0 0 0 486.62 128.12Z" fill="#0A98A0" stroke="#0A98A0" stroke-width="0.25"/>
<path d="M501.09 126.88A26.25 26.25 0 0 1 456.16 149.77L466.63 139.95A11.9 11.9 0 0 0 486.99 129.57Z" fill="#CDD72C" stroke="#CDD72C" stroke-width="0.25"/>
<path d="M456.16 149.77A26.25 26.25 0 0 1 449.05 131.80L463.40 131.80A11.9 11.9 0 0 0 466.63 139.95Z" fill="#A99595" stroke="#A99595" stroke-width="0.25"/>
<path d="M449.05 131.80A26.25 26.25 0 0 1 450.33 123.69L463.98 128.12A11.9 11.9 0 0 0 463.40 131.80Z" fill="#10FDC6" stroke="#10FDC6" stroke-width="0.25"/>
<path d="M450.33 123.69A26.25 26.25 0 0 1 475.30 105.55L475.30 119.90A11.9 11.9 0 0 0 463.98 128.12Z" fill="#C6C6C6" stroke="#C6C6C6" stroke-width="0.25"/>
<text x="476.35" y="99.84" font-size="4.6" text-anchor="middle" fill="#303030" stroke="#303030" stroke-width="0.12" font-family="Liberation Serif, serif">1%</text>
<text x="484.63" y="101.15" font-size="4.6" text-anchor="middle" fill="#303030" stroke="#303030" stroke-width="0.12" font-family="Liberation Serif, serif">7%</text>
<text x="494.95" y="106.21" font-size="4.6" text-anchor="middle" fill="#303030" stroke="#303030" stroke-width="0.12" font-family="Liberation Serif, serif">4%</text>
<text x="494.09" y="160.90" font-size="4.6" text-anchor="middle" fill="#303030" stroke="#303030" stroke-width="0.12" font-family="Liberation Serif, serif">57%</text>
<text x="441.89" y="134.30" font-size="4.6" text-anchor="middle" fill="#303030" stroke="#303030" stroke-width="0.12" font-family="Liberation Serif, serif">11%</text>
<text x="446.01" y="117.15" font-size="4.6" text-anchor="middle" fill="#303030" stroke="#303030" stroke-width="0.12" font-family="Liberation Serif, serif">6%</text>
<text x="461.07" y="103.01" font-size="4.6" text-anchor="middle" fill="#303030" stroke="#303030" stroke-width="0.12" font-family="Liberation Serif, serif">14%</text>
<text x="477.10" y="114.26" font-size="4.6" text-anchor="middle" fill="#303030" stroke="#303030" stroke-width="0.12" font-family="Liberation Serif, serif">3%</text>
<text x="487.91" y="118.94" font-size="4.6" text-anchor="middle" fill="#303030" stroke="#303030" stroke-width="0.12" font-family="Liberation Serif, serif">17%</text>
<text x="493.78" y="128.51" font-size="4.6" text-anchor="middle" fill="#303030" stroke="#303030" stroke-width="0.12" font-family="Liberation Serif, serif">2%</text>
<text x="483.96" y="150.25" font-size="4.6" text-anchor="middle" fill="#303030" stroke="#303030" stroke-width="0.12" font-family="Liberation Serif, serif">41%</text>
<text x="457.56" y="140.27" font-size="4.6" text-anchor="middle" fill="#303030" stroke="#303030" stroke-width="0.12" font-family="Liberation Serif, serif">12%</text>
<text x="456.46" y="130.27" font-size="4.6" text-anchor="middle" fill="#303030" stroke="#303030" stroke-width="0.12" font-family="Liberation Serif, serif">5%</text>
<text x="464.09" y="117.82" font-size="4.6" text-anchor="middle" fill="#303030" stroke="#303030" stroke-width="0.12" font-family="Liberation Serif, serif">20%</text>
<path d="M474.00 184.30A39.2 39.2 0 0 1 476.46 184.38L475.56 198.75A24.8 24.8 0 0 0 474.00 198.70Z" fill="#A80D3D" stroke="#A80D3D" stroke-width="0.25"/>
<path d="M476.46 184.38A39.2 39.2 0 0 1 492.88 189.15L485.95 201.77A24.8 24.8 0 0 0 475.56 198.75Z" fill="#048104" stroke="#048104" stroke-width="0.25"/>
<path d="M492.88 189.15A39.2 39.2 0 0 1 500.83 194.92L490.98 205.42A24.8 24.8 0 0 0 485.95 201.77Z" fill="#0A98A0" stroke="#0A98A0" stroke-width="0.25"/>
<path d="M500.83 194.92A39.2 39.2 0 1 1 436.57 235.14L450.32 230.87A24.8 24.8 0 1 0 490.98 205.42Z" fill="#CDD72C" stroke="#CDD72C" stroke-width="0.25"/>
<path d="M436.57 235.14A39.2 39.2 0 0 1 436.87 210.92L450.51 215.54A24.8 24.8 0 0 0 450.32 230.87Z" fill="#A99595" stroke="#A99595" stroke-width="0.25"/>
<path d="M436.87 210.92A39.2 39.2 0 0 1 451.36 191.50L459.68 203.25A24.8 24.8 0 0 0 450.51 215.54Z" fill="#10FDC6" stroke="#10FDC6" stroke-width="0.25"/>
<path d="M451.36 191.50A39.2 39.2 0 0 1 472.03 184.35L472.75 198.73A24.8 24.8 0 0 0 459.68 203.25Z" fill="#C6C6C6" stroke="#C6C6C6" stroke-width="0.25"/>
<path d="M472.03 184.35A39.2 39.2 0 0 1 474.00 184.30L474.00 198.70A24.8 24.8 0 0 0 472.75 198.73Z" fill="#12E4FA" stroke="#12E4FA" stroke-width="0.25"/>
<path d="M474.00 198.10A25.400000000000002 25.400000000000002 0 0 1 477.18 198.30L475.45 211.99A11.6 11.6 0 0 0 474.00 211.90Z" fill="#A80D3D" stroke="#A80D3D" stroke-width="0.25"/>
<path d="M477.18 198.30A25.400000000000002 25.400000000000002 0 0 1 496.26 211.26L484.17 217.91A11.6 11.6 0 0 0 475.45 211.99Z" fill="#048104" stroke="#048104" stroke-width="0.25"/>
<path d="M496.26 211.26A25.400000000000002 25.400000000000002 0 0 1 496.98 212.69L484.50 218.56A11.6 11.6 0 0 0 484.17 217.91Z" fill="#0A98A0" stroke="#0A98A0" stroke-width="0.25"/>
<path d="M496.98 212.69A25.400000000000002 25.400000000000002 0 0 1 459.07 244.05L467.18 232.88A11.6 11.6 0 0 0 484.50 218.56Z" fill="#CDD72C" stroke="#CDD72C" stroke-width="0.25"/>
<path d="M459.07 244.05A25.400000000000002 25.400000000000002 0 0 1 449.05 228.26L462.61 225.67A11.6 11.6 0 0 0 467.18 232.88Z" fill="#A99595" stroke="#A99595" stroke-width="0.25"/>
<path d="M449.05 228.26A25.400000000000002 25.400000000000002 0 0 1 448.60 223.50L462.40 223.50A11.6 11.6 0 0 0 462.61 225.67Z" fill="#10FDC6" stroke="#10FDC6" stroke-width="0.25"/>
<path d="M448.60 223.50A25.400000000000002 25.400000000000002 0 0 1 474.00 198.10L474.00 211.90A11.6 11.6 0 0 0 462.40 223.50Z" fill="#C6C6C6" stroke="#C6C6C6" stroke-width="0.25"/>
<text x="483.01" y="193.93" font-size="4.6" text-anchor="middle" fill="#303030" stroke="#303030" stroke-width="0.12" font-family="Liberation Serif, serif">7%</text>
<text x="492.99" y="198.82" font-size="4.6" text-anchor="middle" fill="#303030" stroke="#303030" stroke-width="0.12" font-family="Liberation Serif, serif">4%</text>
<text x="491.14" y="252.33" font-size="4.6" text-anchor="middle" fill="#303030" stroke="#303030" stroke-width="0.12" font-family="Liberation Serif, serif">59%</text>
<text x="441.70" y="224.54" font-size="4.6" text-anchor="middle" fill="#303030" stroke="#303030" stroke-width="0.12" font-family="Liberation Serif, serif">10%</text>
<text x="448.11" y="205.64" font-size="4.6" text-anchor="middle" fill="#303030" stroke="#303030" stroke-width="0.12" font-family="Liberation Serif, serif">10%</text>
<text x="463.44" y="194.42" font-size="4.6" text-anchor="middle" fill="#303030" stroke="#303030" stroke-width="0.12" font-family="Liberation Serif, serif">9%</text>
<text x="473.19" y="192.66" font-size="4.6" text-anchor="middle" fill="#303030" stroke="#303030" stroke-width="0.12" font-family="Liberation Serif, serif">1%</text>
<text x="475.16" y="206.49" font-size="4.6" text-anchor="middle" fill="#303030" stroke="#303030" stroke-width="0.12" font-family="Liberation Serif, serif">2%</text>
<text x="484.40" y="209.65" font-size="4.6" text-anchor="middle" fill="#303030" stroke="#303030" stroke-width="0.12" font-family="Liberation Serif, serif">15%</text>
<text x="490.48" y="216.55" font-size="4.6" text-anchor="middle" fill="#303030" stroke="#303030" stroke-width="0.12" font-family="Liberation Serif, serif">1%</text>
<text x="485.79" y="239.20" font-size="4.6" text-anchor="middle" fill="#303030" stroke="#303030" stroke-width="0.12" font-family="Liberation Serif, serif">42%</text>
<text x="458.38" y="234.86" font-size="4.6" text-anchor="middle" fill="#303030" stroke="#303030" stroke-width="0.12" font-family="Liberation Serif, serif">12%</text>
<text x="455.58" y="226.69" font-size="4.6" text-anchor="middle" fill="#303030" stroke="#303030" stroke-width="0.12" font-family="Liberation Serif, serif">3%</text>
<text x="460.92" y="211.87" font-size="4.6" text-anchor="middle" fill="#303030" stroke="#303030" stroke-width="0.12" font-family="Liberation Serif, serif">25%</text>
<path d="M474.20 276.30A40.2 40.2 0 0 1 476.72 276.38L475.80 291.00A25.55 25.55 0 0 0 474.20 290.95Z" fill="#A80D3D" stroke="#A80D3D" stroke-width="0.25"/>
<path d="M476.72 276.38A40.2 40.2 0 0 1 497.83 283.98L489.22 295.83A25.55 25.55 0 0 0 475.80 291.00Z" fill="#048104" stroke="#048104" stroke-width="0.25"/>
<path d="M497.83 283.98A40.2 40.2 0 0 1 503.50 288.98L492.83 299.01A25.55 25.55 0 0 0 489.22 295.83Z" fill="#0A98A0" stroke="#0A98A0" stroke-width="0.25"/>
<path d="M503.50 288.98A40.2 40.2 0 1 1 434.08 319.02L448.70 318.10A25.55 25.55 0 1 0 492.83 299.01Z" fill="#CDD72C" stroke="#CDD72C" stroke-width="0.25"/>
<path d="M434.08 319.02A40.2 40.2 0 0 1 438.97 297.13L451.81 304.19A25.55 25.55 0 0 0 448.70 318.10Z" fill="#A99595" stroke="#A99595" stroke-width="0.25"/>
<path d="M438.97 297.13A40.2 40.2 0 0 1 444.90 288.98L455.57 299.01A25.55 25.55 0 0 0 451.81 304.19Z" fill="#10FDC6" stroke="#10FDC6" stroke-width="0.25"/>
<path d="M444.90 288.98A40.2 40.2 0 0 1 474.20 276.30L474.20 290.95A25.55 25.55 0 0 0 455.57 299.01Z" fill="#C6C6C6" stroke="#C6C6C6" stroke-width="0.25"/>
<path d="M474.20 290.35A26.150000000000002 26.150000000000002 0 0 1 475.84 290.40L474.96 304.42A12.1 12.1 0 0 0 474.20 304.40Z" fill="#A80D3D" stroke="#A80D3D" stroke-width="0.25"/>
<path d="M475.84 290.40A26.150000000000002 26.150000000000002 0 0 1 499.07 308.42L485.71 312.76A12.1 12.1 0 0 0 474.96 304.42Z" fill="#048104" stroke="#048104" stroke-width="0.25"/>
<path d="M499.07 308.42A26.150000000000002 26.150000000000002 0 0 1 499.68 310.64L485.99 313.79A12.1 12.1 0 0 0 485.71 312.76Z" fill="#0A98A0" stroke="#0A98A0" stroke-width="0.25"/>
<path d="M499.68 310.64A26.150000000000002 26.150000000000002 0 0 1 499.95 311.92L486.11 314.38A12.1 12.1 0 0 0 485.99 313.79Z" fill="#066A67" stroke="#066A67" stroke-width="0.25"/>
<path d="M499.95 311.92A26.150000000000002 26.150000000000002 0 0 1 452.12 330.51L463.98 322.98A12.1 12.1 0 0 0 486.11 314.38Z" fill="#CDD72C" stroke="#CDD72C" stroke-width="0.25"/>
<path d="M452.12 330.51A26.150000000000002 26.150000000000002 0 0 1 453.04 301.13L464.41 309.39A12.1 12.1 0 0 0 463.98 322.98Z" fill="#A99595" stroke="#A99595" stroke-width="0.25"/>
<path d="M453.04 301.13A26.150000000000002 26.150000000000002 0 0 1 455.14 298.60L465.38 308.22A12.1 12.1 0 0 0 464.41 309.39Z" fill="#10FDC6" stroke="#10FDC6" stroke-width="0.25"/>
<path d="M455.14 298.60A26.150000000000002 26.150000000000002 0 0 1 474.20 290.35L474.20 304.40A12.1 12.1 0 0 0 465.38 308.22Z" fill="#C6C6C6" stroke="#C6C6C6" stroke-width="0.25"/>
<text x="475.24" y="284.79" font-size="4.6" text-anchor="middle" fill="#303030" stroke="#303030" stroke-width="0.12" font-family="Liberation Serif, serif">1%</text>
<text x="485.44" y="286.74" font-size="4.6" text-anchor="middle" fill="#303030" stroke="#303030" stroke-width="0.12" font-family="Liberation Serif, serif">9%</text>
<text x="496.14" y="293.07" font-size="4.6" text-anchor="middle" fill="#303030" stroke="#303030" stroke-width="0.12" font-family="Liberation Serif, serif">3%</text>
<text x="487.38" y="348.40" font-size="4.6" text-anchor="middle" fill="#303030" stroke="#303030" stroke-width="0.12" font-family="Liberation Serif, serif">61%</text>
<text x="441.82" y="310.71" font-size="4.6" text-anchor="middle" fill="#303030" stroke="#303030" stroke-width="0.12" font-family="Liberation Serif, serif">9%</text>
<text x="447.36" y="298.45" font-size="4.6" text-anchor="middle" fill="#303030" stroke="#303030" stroke-width="0.12" font-family="Liberation Serif, serif">4%</text>
<text x="461.02" y="287.50" font-size="4.6" text-anchor="middle" fill="#303030" stroke="#303030" stroke-width="0.12" font-family="Liberation Serif, serif">13%</text>
<text x="474.80" y="298.83" font-size="4.6" text-anchor="middle" fill="#303030" stroke="#303030" stroke-width="0.12" font-family="Liberation Serif, serif">1%</text>
<text x="485.92" y="302.84" font-size="4.6" text-anchor="middle" fill="#303030" stroke="#303030" stroke-width="0.12" font-family="Liberation Serif, serif">19%</text>
<text x="492.63" y="312.85" font-size="4.6" text-anchor="middle" fill="#303030" stroke="#303030" stroke-width="0.12" font-family="Liberation Serif, serif">1%</text>
<text x="492.94" y="314.13" font-size="4.6" text-anchor="middle" fill="#303030" stroke="#303030" stroke-width="0.12" font-family="Liberation Serif, serif">1%</text>
<text x="481.13" y="335.78" font-size="4.6" text-anchor="middle" fill="#303030" stroke="#303030" stroke-width="0.12" font-family="Liberation Serif, serif">43%</text>
<text x="455.08" y="317.35" font-size="4.6" text-anchor="middle" fill="#303030" stroke="#303030" stroke-width="0.12" font-family="Liberation Serif, serif">19%</text>
<text x="459.46" y="305.76" font-size="4.6" text-anchor="middle" fill="#303030" stroke="#303030" stroke-width="0.12" font-family="Liberation Serif, serif">2%</text>
<text x="466.60" y="300.40" font-size="4.6" text-anchor="middle" fill="#303030" stroke="#303030" stroke-width="0.12" font-family="Liberation Serif, serif">13%</text>
<rect x="280.0" y="32.90" width="2.8" height="2.8" fill="#A80D3D"/>
<text x="284.3" y="35.82" font-size="4.6" fill="#111" stroke="#111" stroke-width="0.1" font-family="Liberation Serif, serif">N15 mT</text>
<rect x="280.0" y="42.17" width="2.8" height="2.8" fill="#99FF66"/>
<text x="284.3" y="45.09" font-size="4.6" fill="#111" stroke="#111" stroke-width="0.1" font-family="Liberation Serif, serif">N15 pT</text>
<rect x="280.0" y="51.44" width="2.8" height="2.8" fill="#048104"/>
<text x="284.3" y="54.36" font-size="4.6" fill="#111" stroke="#111" stroke-width="0.1" font-family="Liberation Serif, serif">N15 mTR</text>
<rect x="280.0" y="60.71" width="2.8" height="2.8" fill="#0A98A0"/>
<text x="284.3" y="63.63" font-size="4.6" fill="#111" stroke="#111" stroke-width="0.1" font-family="Liberation Serif, serif">N15 pTR</text>
<rect x="280.0" y="69.98" width="2.8" height="2.8" fill="#066A67"/>
<text x="284.3" y="72.90" font-size="4.6" fill="#111" stroke="#111" stroke-width="0.1" font-family="Liberation Serif, serif">N15 mTROG</text>
<rect x="280.0" y="79.25" width="2.8" height="2.8" fill="#CDD72C"/>
<text x="284.3" y="82.17" font-size="4.6" fill="#111" stroke="#111" stroke-width="0.1" font-family="Liberation Serif, serif">N15 mT9G</text>
<rect x="280.0" y="88.52" width="2.8" height="2.8" fill="#A99595"/>
<text x="284.3" y="91.44" font-size="4.6" fill="#111" stroke="#111" stroke-width="0.1" font-family="Liberation Serif, serif">N15 pTOG</text>
<rect x="280.0" y="97.79" width="2.8" height="2.8" fill="#10FDC6"/>
<text x="284.3" y="100.71" font-size="4.6" fill="#111" stroke="#111" stroke-width="0.1" font-family="Liberation Serif, serif">N15 mTOG</text>
<rect x="280.0" y="107.06" width="2.8" height="2.8" fill="#C6C6C6"/>
<text x="284.3" y="109.98" font-size="4.6" fill="#111" stroke="#111" stroke-width="0.1" font-family="Liberation Serif, serif">N15 oTOG</text>
<rect x="280.0" y="116.40" width="2.8" height="2.8" fill="#A80D3D"/>
<text x="284.3" y="119.32" font-size="4.6" fill="#111" stroke="#111" stroke-width="0.1" font-family="Liberation Serif, serif">N15 mT</text>
<rect x="280.0" y="125.95" width="2.8" height="2.8" fill="#99FF66"/>
<text x="284.3" y="128.87" font-size="4.6" fill="#111" stroke="#111" stroke-width="0.1" font-family="Liberation Serif, serif">N15 pT</text>
<rect x="280.0" y="135.50" width="2.8" height="2.8" fill="#048104"/>
<text x="284.3" y="138.42" font-size="4.6" fill="#111" stroke="#111" stroke-width="0.1" font-family="Liberation Serif, serif">N15 mTR</text>
<rect x="280.0" y="145.05" width="2.8" height="2.8" fill="#0A98A0"/>
<text x="284.3" y="147.97" font-size="4.6" fill="#111" stroke="#111" stroke-width="0.1" font-family="Liberation Serif, serif">N15 pTR</text>
<rect x="280.0" y="154.60" width="2.8" height="2.8" fill="#066A67"/>
<text x="284.3" y="157.52" font-size="4.6" fill="#111" stroke="#111" stroke-width="0.1" font-family="Liberation Serif, serif">N15 mTROG</text>
<rect x="280.0" y="164.15" width="2.8" height="2.8" fill="#CDD72C"/>
<text x="284.3" y="167.07" font-size="4.6" fill="#111" stroke="#111" stroke-width="0.1" font-family="Liberation Serif, serif">N15 mT9G</text>
<rect x="280.0" y="173.70" width="2.8" height="2.8" fill="#A99595"/>
<text x="284.3" y="176.62" font-size="4.6" fill="#111" stroke="#111" stroke-width="0.1" font-family="Liberation Serif, serif">N15 pTOG</text>
<rect x="280.0" y="183.25" width="2.8" height="2.8" fill="#10FDC6"/>
<text x="284.3" y="186.17" font-size="4.6" fill="#111" stroke="#111" stroke-width="0.1" font-family="Liberation Serif, serif">N15 mTOG</text>
<rect x="280.0" y="192.80" width="2.8" height="2.8" fill="#C6C6C6"/>
<text x="284.3" y="195.72" font-size="4.6" fill="#111" stroke="#111" stroke-width="0.1" font-family="Liberation Serif, serif">N15 oTOG</text>
<rect x="280.0" y="202.35" width="2.8" height="2.8" fill="#12E4FA"/>
<text x="284.3" y="205.27" font-size="4.6" fill="#111" stroke="#111" stroke-width="0.1" font-family="Liberation Serif, serif">N15 oT9G</text>
<rect x="280.0" y="211.00" width="2.8" height="2.8" fill="#A80D3D"/>
<text x="284.3" y="213.92" font-size="4.6" fill="#111" stroke="#111" stroke-width="0.1" font-family="Liberation Serif, serif">N15 mT</text>
<rect x="280.0" y="221.80" width="2.8" height="2.8" fill="#99FF66"/>
<text x="284.3" y="224.72" font-size="4.6" fill="#111" stroke="#111" stroke-width="0.1" font-family="Liberation Serif, serif">N15 pT</text>
<rect x="280.0" y="232.60" width="2.8" height="2.8" fill="#048104"/>
<text x="284.3" y="235.52" font-size="4.6" fill="#111" stroke="#111" stroke-width="0.1" font-family="Liberation Serif, serif">N15 mTR</text>
<rect x="280.0" y="243.40" width="2.8" height="2.8" fill="#0A98A0"/>
<text x="284.3" y="246.32" font-size="4.6" fill="#111" stroke="#111" stroke-width="0.1" font-family="Liberation Serif, serif">N15 pTR</text>
<rect x="280.0" y="254.20" width="2.8" height="2.8" fill="#066A67"/>
<text x="284.3" y="257.12" font-size="4.6" fill="#111" stroke="#111" stroke-width="0.1" font-family="Liberation Serif, serif">N15 mTROG</text>
<rect x="280.0" y="265.00" width="2.8" height="2.8" fill="#CDD72C"/>
<text x="284.3" y="267.92" font-size="4.6" fill="#111" stroke="#111" stroke-width="0.1" font-family="Liberation Serif, serif">N15 mT9G</text>
<rect x="280.0" y="275.80" width="2.8" height="2.8" fill="#A99595"/>
<text x="284.3" y="278.72" font-size="4.6" fill="#111" stroke="#111" stroke-width="0.1" font-family="Liberation Serif, serif">N15 pTOG</text>
<rect x="280.0" y="286.60" width="2.8" height="2.8" fill="#10FDC6"/>
<text x="284.3" y="289.52" font-size="4.6" fill="#111" stroke="#111" stroke-width="0.1" font-family="Liberation Serif, serif">N15 mTOG</text>
<rect x="280.0" y="297.40" width="2.8" height="2.8" fill="#C6C6C6"/>
<text x="284.3" y="300.32" font-size="4.6" fill="#111" stroke="#111" stroke-width="0.1" font-family="Liberation Serif, serif">N15 oTOG</text>
<rect x="280.0" y="305.90" width="2.8" height="2.8" fill="#A80D3D"/>
<text x="284.3" y="308.82" font-size="4.6" fill="#111" stroke="#111" stroke-width="0.1" font-family="Liberation Serif, serif">N15 mT</text>
<rect x="280.0" y="318.25" width="2.8" height="2.8" fill="#048104"/>
<text x="284.3" y="321.17" font-size="4.6" fill="#111" stroke="#111" stroke-width="0.1" font-family="Liberation Serif, serif">N15 mTR</text>
<rect x="280.0" y="330.60" width="2.8" height="2.8" fill="#0A98A0"/>
<text x="284.3" y="333.52" font-size="4.6" fill="#111" stroke="#111" stroke-width="0.1" font-family="Liberation Serif, serif">N15 pTR</text>
<rect x="280.0" y="342.95" width="2.8" height="2.8" fill="#066A67"/>
<text x="284.3" y="345.87" font-size="4.6" fill="#111" stroke="#111" stroke-width="0.1" font-family="Liberation Serif, serif">N15 mTROG</text>
<rect x="280.0" y="355.30" width="2.8" height="2.8" fill="#CDD72C"/>
<text x="284.3" y="358.22" font-size="4.6" fill="#111" stroke="#111" stroke-width="0.1" font-family="Liberation Serif, serif">N15 mT9G</text>
<rect x="280.0" y="367.65" width="2.8" height="2.8" fill="#A99595"/>
<text x="284.3" y="370.57" font-size="4.6" fill="#111" stroke="#111" stroke-width="0.1" font-family="Liberation Serif, serif">N15 pTOG</text>
<rect x="280.0" y="380.00" width="2.8" height="2.8" fill="#10FDC6"/>
<text x="284.3" y="382.92" font-size="4.6" fill="#111" stroke="#111" stroke-width="0.1" font-family="Liberation Serif, serif">N15 mTOG</text>
<rect x="514.2" y="8.90" width="2.8" height="2.8" fill="#A80D3D"/>
<text x="518.8" y="11.85" font-size="4.7" fill="#111" stroke="#111" stroke-width="0.1" font-family="Liberation Serif, serif">N15 mT</text>
<rect x="514.2" y="18.27" width="2.8" height="2.8" fill="#99FF66"/>
<text x="518.8" y="21.22" font-size="4.7" fill="#111" stroke="#111" stroke-width="0.1" font-family="Liberation Serif, serif">N15 pT</text>
<rect x="514.2" y="27.64" width="2.8" height="2.8" fill="#048104"/>
<text x="518.8" y="30.59" font-size="4.7" fill="#111" stroke="#111" stroke-width="0.1" font-family="Liberation Serif, serif">N15 mTR</text>
<rect x="514.2" y="37.01" width="2.8" height="2.8" fill="#0A98A0"/>
<text x="518.8" y="39.96" font-size="4.7" fill="#111" stroke="#111" stroke-width="0.1" font-family="Liberation Serif, serif">N15 pTR</text>
<rect x="514.2" y="46.38" width="2.8" height="2.8" fill="#066A67"/>
<text x="518.8" y="49.33" font-size="4.7" fill="#111" stroke="#111" stroke-width="0.1" font-family="Liberation Serif, serif">N15 mTROG</text>
<rect x="514.2" y="55.75" width="2.8" height="2.8" fill="#CDD72C"/>
<text x="518.8" y="58.70" font-size="4.7" fill="#111" stroke="#111" stroke-width="0.1" font-family="Liberation Serif, serif">N15 mT9G</text>
<rect x="514.2" y="65.12" width="2.8" height="2.8" fill="#A99595"/>
<text x="518.8" y="68.07" font-size="4.7" fill="#111" stroke="#111" stroke-width="0.1" font-family="Liberation Serif, serif">N15 pTOG</text>
<rect x="514.2" y="74.49" width="2.8" height="2.8" fill="#10FDC6"/>
<text x="518.8" y="77.44" font-size="4.7" fill="#111" stroke="#111" stroke-width="0.1" font-family="Liberation Serif, serif">N15 mTOG</text>
<rect x="514.2" y="83.86" width="2.8" height="2.8" fill="#C6C6C6"/>
<text x="518.8" y="86.81" font-size="4.7" fill="#111" stroke="#111" stroke-width="0.1" font-family="Liberation Serif, serif">N15 oTOG</text>
<rect x="516.2" y="93.80" width="3.0" height="3.0" fill="#A80D3D"/>
<text x="521.6" y="96.92" font-size="4.9" fill="#111" stroke="#111" stroke-width="0.1" font-family="Liberation Serif, serif">N15 mT</text>
<rect x="516.2" y="104.23" width="3.0" height="3.0" fill="#99FF66"/>
<text x="521.6" y="107.35" font-size="4.9" fill="#111" stroke="#111" stroke-width="0.1" font-family="Liberation Serif, serif">N15 pT</text>
<rect x="516.2" y="114.66" width="3.0" height="3.0" fill="#048104"/>
<text x="521.6" y="117.78" font-size="4.9" fill="#111" stroke="#111" stroke-width="0.1" font-family="Liberation Serif, serif">N15 mTR</text>
<rect x="516.2" y="125.09" width="3.0" height="3.0" fill="#0A98A0"/>
<text x="521.6" y="128.21" font-size="4.9" fill="#111" stroke="#111" stroke-width="0.1" font-family="Liberation Serif, serif">N15 pTR</text>
<rect x="516.2" y="135.52" width="3.0" height="3.0" fill="#CDD72C"/>
<text x="521.6" y="138.64" font-size="4.9" fill="#111" stroke="#111" stroke-width="0.1" font-family="Liberation Serif, serif">N15 mT9G</text>
<rect x="516.2" y="145.95" width="3.0" height="3.0" fill="#A99595"/>
<text x="521.6" y="149.07" font-size="4.9" fill="#111" stroke="#111" stroke-width="0.1" font-family="Liberation Serif, serif">N15 pTOG</text>
<rect x="516.2" y="156.38" width="3.0" height="3.0" fill="#10FDC6"/>
<text x="521.6" y="159.50" font-size="4.9" fill="#111" stroke="#111" stroke-width="0.1" font-family="Liberation Serif, serif">N15 mTOG</text>
<rect x="516.2" y="166.81" width="3.0" height="3.0" fill="#C6C6C6"/>
<text x="521.6" y="169.93" font-size="4.9" fill="#111" stroke="#111" stroke-width="0.1" font-family="Liberation Serif, serif">N15 oTOG</text>
<rect x="516.4" y="176.70" width="3.0" height="3.0" fill="#A80D3D"/>
<text x="521.3" y="179.82" font-size="4.9" fill="#111" stroke="#111" stroke-width="0.1" font-family="Liberation Serif, serif">N15 mT</text>
<rect x="516.4" y="189.30" width="3.0" height="3.0" fill="#048104"/>
<text x="521.3" y="192.42" font-size="4.9" fill="#111" stroke="#111" stroke-width="0.1" font-family="Liberation Serif, serif">N15 mTR</text>
<rect x="516.4" y="201.90" width="3.0" height="3.0" fill="#0A98A0"/>
<text x="521.3" y="205.02" font-size="4.9" fill="#111" stroke="#111" stroke-width="0.1" font-family="Liberation Serif, serif">N15 pTR</text>
<rect x="516.4" y="214.50" width="3.0" height="3.0" fill="#CDD72C"/>
<text x="521.3" y="217.62" font-size="4.9" fill="#111" stroke="#111" stroke-width="0.1" font-family="Liberation Serif, serif">N15 mT9G</text>
<rect x="516.4" y="227.10" width="3.0" height="3.0" fill="#A99595"/>
<text x="521.3" y="230.22" font-size="4.9" fill="#111" stroke="#111" stroke-width="0.1" font-family="Liberation Serif, serif">N15 pTOG</text>
<rect x="516.4" y="239.70" width="3.0" height="3.0" fill="#10FDC6"/>
<text x="521.3" y="242.82" font-size="4.9" fill="#111" stroke="#111" stroke-width="0.1" font-family="Liberation Serif, serif">N15 mTOG</text>
<rect x="516.4" y="252.30" width="3.0" height="3.0" fill="#C6C6C6"/>
<text x="521.3" y="255.42" font-size="4.9" fill="#111" stroke="#111" stroke-width="0.1" font-family="Liberation Serif, serif">N15 oTOG</text>
<rect x="516.4" y="264.90" width="3.0" height="3.0" fill="#12E4FA"/>
<text x="521.3" y="268.02" font-size="4.9" fill="#111" stroke="#111" stroke-width="0.1" font-family="Liberation Serif, serif">N15 oT9G</text>
<rect x="516.2" y="273.30" width="3.0" height="3.0" fill="#A80D3D"/>
<text x="521.3" y="276.43" font-size="4.95" fill="#111" stroke="#111" stroke-width="0.1" font-family="Liberation Serif, serif">N15 mT</text>
<rect x="516.2" y="283.95" width="3.0" height="3.0" fill="#99FF66"/>
<text x="521.3" y="287.08" font-size="4.95" fill="#111" stroke="#111" stroke-width="0.1" font-family="Liberation Serif, serif">N15 pT</text>
<rect x="516.2" y="294.60" width="3.0" height="3.0" fill="#048104"/>
<text x="521.3" y="297.73" font-size="4.95" fill="#111" stroke="#111" stroke-width="0.1" font-family="Liberation Serif, serif">N15 mTR</text>
<rect x="516.2" y="305.25" width="3.0" height="3.0" fill="#0A98A0"/>
<text x="521.3" y="308.38" font-size="4.95" fill="#111" stroke="#111" stroke-width="0.1" font-family="Liberation Serif, serif">N15 pTR</text>
<rect x="516.2" y="315.90" width="3.0" height="3.0" fill="#066A67"/>
<text x="521.3" y="319.03" font-size="4.95" fill="#111" stroke="#111" stroke-width="0.1" font-family="Liberation Serif, serif">N15 mTROG</text>
<rect x="516.2" y="326.55" width="3.0" height="3.0" fill="#CDD72C"/>
<text x="521.3" y="329.68" font-size="4.95" fill="#111" stroke="#111" stroke-width="0.1" font-family="Liberation Serif, serif">N15 mT9G</text>
<rect x="516.2" y="337.20" width="3.0" height="3.0" fill="#A99595"/>
<text x="521.3" y="340.33" font-size="4.95" fill="#111" stroke="#111" stroke-width="0.1" font-family="Liberation Serif, serif">N15 pTOG</text>
<rect x="516.2" y="347.85" width="3.0" height="3.0" fill="#10FDC6"/>
<text x="521.3" y="350.98" font-size="4.95" fill="#111" stroke="#111" stroke-width="0.1" font-family="Liberation Serif, serif">N15 mTOG</text>
<rect x="516.2" y="358.50" width="3.0" height="3.0" fill="#C6C6C6"/>
<text x="521.3" y="361.63" font-size="4.95" fill="#111" stroke="#111" stroke-width="0.1" font-family="Liberation Serif, serif">N15 oTOG</text>
<text x="136" y="400.4" font-size="10.8" font-weight="bold" text-anchor="middle" fill="#111" font-family="Liberation Serif, serif">(A)</text>
<text x="413.6" y="400.4" font-size="10.4" font-weight="bold" text-anchor="middle" fill="#111" font-family="Liberation Serif, serif">(B)</text>
</g>
</svg>
</body></html>
